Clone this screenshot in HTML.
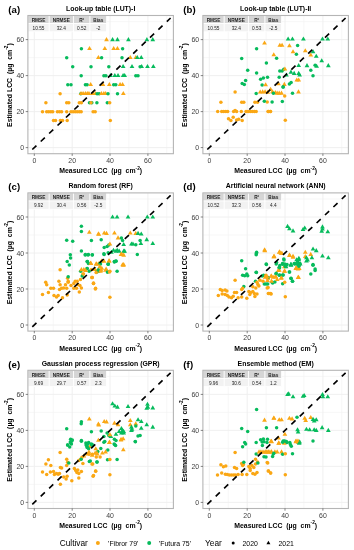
<!DOCTYPE html>
<html><head><meta charset="utf-8"><style>
html,body{margin:0;padding:0;background:#fff;}
svg{display:block;font-family:"Liberation Sans", sans-serif;will-change:transform;}
</style></head><body>
<svg width="354" height="550" viewBox="0 0 354 550">
<rect width="354" height="550" fill="#fff"/>
<g transform="translate(0.00,0.00)">
<rect x="27.9" y="15.5" width="145.5" height="138.2" fill="#fff"/>
<line x1="53.2" y1="15.5" x2="53.2" y2="153.7" stroke="#f4f4f4" stroke-width="0.7"/>
<line x1="27.9" y1="129.6" x2="173.4" y2="129.6" stroke="#f4f4f4" stroke-width="0.7"/>
<line x1="91.1" y1="15.5" x2="91.1" y2="153.7" stroke="#f4f4f4" stroke-width="0.7"/>
<line x1="27.9" y1="93.6" x2="173.4" y2="93.6" stroke="#f4f4f4" stroke-width="0.7"/>
<line x1="128.9" y1="15.5" x2="128.9" y2="153.7" stroke="#f4f4f4" stroke-width="0.7"/>
<line x1="27.9" y1="57.6" x2="173.4" y2="57.6" stroke="#f4f4f4" stroke-width="0.7"/>
<line x1="166.8" y1="15.5" x2="166.8" y2="153.7" stroke="#f4f4f4" stroke-width="0.7"/>
<line x1="27.9" y1="21.6" x2="173.4" y2="21.6" stroke="#f4f4f4" stroke-width="0.7"/>
<line x1="34.3" y1="15.5" x2="34.3" y2="153.7" stroke="#eeeeee" stroke-width="0.9"/>
<line x1="27.9" y1="147.6" x2="173.4" y2="147.6" stroke="#eeeeee" stroke-width="0.9"/>
<line x1="72.2" y1="15.5" x2="72.2" y2="153.7" stroke="#eeeeee" stroke-width="0.9"/>
<line x1="27.9" y1="111.6" x2="173.4" y2="111.6" stroke="#eeeeee" stroke-width="0.9"/>
<line x1="110.0" y1="15.5" x2="110.0" y2="153.7" stroke="#eeeeee" stroke-width="0.9"/>
<line x1="27.9" y1="75.6" x2="173.4" y2="75.6" stroke="#eeeeee" stroke-width="0.9"/>
<line x1="147.9" y1="15.5" x2="147.9" y2="153.7" stroke="#eeeeee" stroke-width="0.9"/>
<line x1="27.9" y1="39.6" x2="173.4" y2="39.6" stroke="#eeeeee" stroke-width="0.9"/>
<path d="M104.15 41.14L106.51 37.06L108.87 41.14Z" fill="#FAA714"/>
<path d="M110.19 41.14L112.55 37.06L114.91 41.14Z" fill="#06BB5C"/>
<path d="M115.10 41.14L117.46 37.06L119.82 41.14Z" fill="#06BB5C"/>
<path d="M126.05 41.14L128.41 37.06L130.77 41.14Z" fill="#06BB5C"/>
<path d="M144.55 41.14L146.91 37.06L149.27 41.14Z" fill="#06BB5C"/>
<path d="M150.41 41.14L152.77 37.06L155.13 41.14Z" fill="#06BB5C"/>
<circle cx="81.4" cy="48.8" r="1.75" fill="#06BB5C"/>
<path d="M87.16 50.12L89.52 46.05L91.88 50.12Z" fill="#FAA714"/>
<path d="M102.45 50.12L104.81 46.05L107.17 50.12Z" fill="#FAA714"/>
<path d="M111.32 50.12L113.68 46.05L116.04 50.12Z" fill="#FAA714"/>
<path d="M115.10 50.12L117.46 46.05L119.82 50.12Z" fill="#FAA714"/>
<circle cx="122.6" cy="48.8" r="1.75" fill="#06BB5C"/>
<circle cx="66.7" cy="57.8" r="1.75" fill="#06BB5C"/>
<path d="M96.03 59.11L98.39 55.03L100.75 59.11Z" fill="#FAA714"/>
<circle cx="101.6" cy="57.8" r="1.75" fill="#06BB5C"/>
<circle cx="122.0" cy="57.8" r="1.75" fill="#06BB5C"/>
<path d="M127.94 59.11L130.30 55.03L132.66 59.11Z" fill="#FAA714"/>
<path d="M133.41 59.11L135.77 55.03L138.13 59.11Z" fill="#FAA714"/>
<path d="M134.92 59.11L137.28 55.03L139.64 59.11Z" fill="#06BB5C"/>
<path d="M138.89 59.11L141.25 55.03L143.61 59.11Z" fill="#06BB5C"/>
<circle cx="72.7" cy="66.7" r="1.75" fill="#06BB5C"/>
<circle cx="91.0" cy="66.7" r="1.75" fill="#06BB5C"/>
<circle cx="108.8" cy="66.7" r="1.75" fill="#06BB5C"/>
<path d="M120.76 68.09L123.12 64.02L125.48 68.09Z" fill="#06BB5C"/>
<path d="M129.64 68.09L132.00 64.02L134.36 68.09Z" fill="#06BB5C"/>
<circle cx="140.1" cy="66.7" r="1.75" fill="#06BB5C"/>
<path d="M139.27 68.09L141.63 64.02L143.99 68.09Z" fill="#06BB5C"/>
<path d="M145.12 68.09L147.48 64.02L149.84 68.09Z" fill="#06BB5C"/>
<path d="M150.97 68.09L153.33 64.02L155.69 68.09Z" fill="#06BB5C"/>
<circle cx="81.2" cy="75.7" r="1.75" fill="#06BB5C"/>
<circle cx="103.9" cy="75.7" r="1.75" fill="#06BB5C"/>
<circle cx="105.9" cy="75.7" r="1.75" fill="#06BB5C"/>
<path d="M108.12 77.08L110.48 73.00L112.84 77.08Z" fill="#06BB5C"/>
<path d="M112.46 77.08L114.82 73.00L117.18 77.08Z" fill="#06BB5C"/>
<path d="M115.67 77.08L118.03 73.00L120.39 77.08Z" fill="#06BB5C"/>
<path d="M120.76 77.08L123.12 73.00L125.48 77.08Z" fill="#06BB5C"/>
<path d="M122.28 77.08L124.64 73.00L127.00 77.08Z" fill="#06BB5C"/>
<circle cx="135.8" cy="75.7" r="1.75" fill="#06BB5C"/>
<circle cx="138.0" cy="75.7" r="1.75" fill="#06BB5C"/>
<circle cx="67.8" cy="84.7" r="1.75" fill="#06BB5C"/>
<circle cx="71.0" cy="84.7" r="1.75" fill="#06BB5C"/>
<circle cx="85.4" cy="84.7" r="1.75" fill="#06BB5C"/>
<circle cx="87.1" cy="84.7" r="1.75" fill="#06BB5C"/>
<path d="M88.29 86.06L90.65 81.98L93.01 86.06Z" fill="#FAA714"/>
<path d="M100.56 86.06L102.92 81.98L105.28 86.06Z" fill="#FAA714"/>
<path d="M106.98 86.06L109.34 81.98L111.70 86.06Z" fill="#FAA714"/>
<circle cx="113.7" cy="84.7" r="1.75" fill="#06BB5C"/>
<circle cx="115.8" cy="84.7" r="1.75" fill="#06BB5C"/>
<path d="M117.74 86.06L120.10 81.98L122.46 86.06Z" fill="#FAA714"/>
<path d="M120.20 86.06L122.56 81.98L124.92 86.06Z" fill="#FAA714"/>
<circle cx="60.1" cy="93.7" r="1.75" fill="#FAA714"/>
<circle cx="80.8" cy="93.7" r="1.75" fill="#06BB5C"/>
<path d="M78.66 95.05L81.02 90.97L83.38 95.05Z" fill="#FAA714"/>
<path d="M80.74 95.05L83.10 90.97L85.46 95.05Z" fill="#FAA714"/>
<path d="M83.00 95.05L85.36 90.97L87.72 95.05Z" fill="#FAA714"/>
<path d="M84.89 95.05L87.25 90.97L89.61 95.05Z" fill="#FAA714"/>
<path d="M86.59 95.05L88.95 90.97L91.31 95.05Z" fill="#FAA714"/>
<path d="M90.56 95.05L92.92 90.97L95.28 95.05Z" fill="#FAA714"/>
<path d="M93.01 95.05L95.37 90.97L97.73 95.05Z" fill="#FAA714"/>
<circle cx="97.1" cy="93.7" r="1.75" fill="#06BB5C"/>
<circle cx="99.1" cy="93.7" r="1.75" fill="#06BB5C"/>
<path d="M99.05 95.05L101.41 90.97L103.77 95.05Z" fill="#FAA714"/>
<path d="M101.51 95.05L103.87 90.97L106.23 95.05Z" fill="#FAA714"/>
<path d="M103.21 95.05L105.57 90.97L107.93 95.05Z" fill="#FAA714"/>
<circle cx="108.0" cy="93.7" r="1.75" fill="#06BB5C"/>
<circle cx="117.5" cy="93.7" r="1.75" fill="#06BB5C"/>
<path d="M120.95 95.05L123.31 90.97L125.67 95.05Z" fill="#FAA714"/>
<circle cx="45.9" cy="102.7" r="1.75" fill="#FAA714"/>
<circle cx="66.7" cy="102.7" r="1.75" fill="#FAA714"/>
<circle cx="68.8" cy="102.7" r="1.75" fill="#FAA714"/>
<circle cx="79.3" cy="102.7" r="1.75" fill="#FAA714"/>
<circle cx="81.4" cy="102.7" r="1.75" fill="#FAA714"/>
<circle cx="89.5" cy="102.7" r="1.75" fill="#06BB5C"/>
<circle cx="91.8" cy="102.7" r="1.75" fill="#06BB5C"/>
<circle cx="91.0" cy="102.7" r="1.75" fill="#FAA714"/>
<circle cx="96.9" cy="102.7" r="1.75" fill="#06BB5C"/>
<circle cx="107.3" cy="102.7" r="1.75" fill="#06BB5C"/>
<circle cx="109.7" cy="102.7" r="1.75" fill="#FAA714"/>
<circle cx="42.5" cy="111.7" r="1.75" fill="#FAA714"/>
<circle cx="46.7" cy="111.7" r="1.75" fill="#FAA714"/>
<circle cx="48.7" cy="111.7" r="1.75" fill="#FAA714"/>
<circle cx="50.8" cy="111.7" r="1.75" fill="#FAA714"/>
<circle cx="52.7" cy="111.7" r="1.75" fill="#FAA714"/>
<circle cx="57.4" cy="111.7" r="1.75" fill="#FAA714"/>
<circle cx="59.5" cy="111.7" r="1.75" fill="#FAA714"/>
<circle cx="61.6" cy="111.7" r="1.75" fill="#FAA714"/>
<circle cx="66.7" cy="111.7" r="1.75" fill="#FAA714"/>
<circle cx="71.0" cy="111.7" r="1.75" fill="#FAA714"/>
<circle cx="73.1" cy="111.7" r="1.75" fill="#FAA714"/>
<circle cx="75.2" cy="111.7" r="1.75" fill="#FAA714"/>
<circle cx="77.2" cy="111.7" r="1.75" fill="#FAA714"/>
<circle cx="79.3" cy="111.7" r="1.75" fill="#FAA714"/>
<circle cx="81.2" cy="111.7" r="1.75" fill="#FAA714"/>
<circle cx="93.1" cy="111.7" r="1.75" fill="#FAA714"/>
<circle cx="95.2" cy="111.7" r="1.75" fill="#FAA714"/>
<circle cx="53.5" cy="120.6" r="1.75" fill="#FAA714"/>
<circle cx="55.5" cy="120.6" r="1.75" fill="#FAA714"/>
<circle cx="60.4" cy="120.6" r="1.75" fill="#FAA714"/>
<circle cx="62.5" cy="120.6" r="1.75" fill="#FAA714"/>
<circle cx="67.2" cy="120.6" r="1.75" fill="#FAA714"/>
<circle cx="110.3" cy="120.6" r="1.75" fill="#FAA714"/>
<line x1="32.31" y1="149.49" x2="170.60" y2="18.00" stroke="#000" stroke-width="1.65" stroke-dasharray="5.7 5.9"/>
<rect x="27.9" y="15.5" width="21.3" height="8.1" fill="#d5d5d5" stroke="#fff" stroke-width="0.8"/>
<rect x="27.9" y="23.6" width="21.3" height="8.2" fill="#f2f2f2" stroke="#fff" stroke-width="0.8"/>
<text x="38.5" y="21.9" font-size="4.75" font-weight="bold" text-anchor="middle" fill="#222">RMSE</text>
<text x="38.5" y="30.1" font-size="4.75" text-anchor="middle" fill="#222">10.55</text>
<rect x="49.2" y="15.5" width="24.2" height="8.1" fill="#d5d5d5" stroke="#fff" stroke-width="0.8"/>
<rect x="49.2" y="23.6" width="24.2" height="8.2" fill="#f2f2f2" stroke="#fff" stroke-width="0.8"/>
<text x="61.3" y="21.9" font-size="4.75" font-weight="bold" text-anchor="middle" fill="#222">NRMSE</text>
<text x="61.3" y="30.1" font-size="4.75" text-anchor="middle" fill="#222">32.4</text>
<rect x="73.4" y="15.5" width="16.6" height="8.1" fill="#d5d5d5" stroke="#fff" stroke-width="0.8"/>
<rect x="73.4" y="23.6" width="16.6" height="8.2" fill="#f2f2f2" stroke="#fff" stroke-width="0.8"/>
<text x="81.7" y="21.9" font-size="4.75" font-weight="bold" text-anchor="middle" fill="#222">R²</text>
<text x="81.7" y="30.1" font-size="4.75" text-anchor="middle" fill="#222">0.52</text>
<rect x="90.0" y="15.5" width="16.6" height="8.1" fill="#d5d5d5" stroke="#fff" stroke-width="0.8"/>
<rect x="90.0" y="23.6" width="16.6" height="8.2" fill="#f2f2f2" stroke="#fff" stroke-width="0.8"/>
<text x="98.3" y="21.9" font-size="4.75" font-weight="bold" text-anchor="middle" fill="#222">Bias</text>
<text x="98.3" y="30.1" font-size="4.75" text-anchor="middle" fill="#222">-2</text>
<rect x="27.9" y="15.5" width="145.5" height="138.2" fill="none" stroke="#b5b5b5" stroke-width="1.1"/>
<line x1="34.3" y1="153.7" x2="34.3" y2="155.9" stroke="#333" stroke-width="0.6"/>
<line x1="25.7" y1="147.6" x2="27.9" y2="147.6" stroke="#333" stroke-width="0.6"/>
<text x="34.3" y="163.0" font-size="6.9" text-anchor="middle" fill="#404040">0</text>
<text x="24.2" y="150.2" font-size="6.9" text-anchor="end" fill="#404040">0</text>
<line x1="72.2" y1="153.7" x2="72.2" y2="155.9" stroke="#333" stroke-width="0.6"/>
<line x1="25.7" y1="111.6" x2="27.9" y2="111.6" stroke="#333" stroke-width="0.6"/>
<text x="72.2" y="163.0" font-size="6.9" text-anchor="middle" fill="#404040">20</text>
<text x="24.2" y="114.2" font-size="6.9" text-anchor="end" fill="#404040">20</text>
<line x1="110.0" y1="153.7" x2="110.0" y2="155.9" stroke="#333" stroke-width="0.6"/>
<line x1="25.7" y1="75.6" x2="27.9" y2="75.6" stroke="#333" stroke-width="0.6"/>
<text x="110.0" y="163.0" font-size="6.9" text-anchor="middle" fill="#404040">40</text>
<text x="24.2" y="78.2" font-size="6.9" text-anchor="end" fill="#404040">40</text>
<line x1="147.9" y1="153.7" x2="147.9" y2="155.9" stroke="#333" stroke-width="0.6"/>
<line x1="25.7" y1="39.6" x2="27.9" y2="39.6" stroke="#333" stroke-width="0.6"/>
<text x="147.9" y="163.0" font-size="6.9" text-anchor="middle" fill="#404040">60</text>
<text x="24.2" y="42.2" font-size="6.9" text-anchor="end" fill="#404040">60</text>
<text x="100.7" y="173.2" font-size="6.9" font-weight="bold" text-anchor="middle" fill="#000" xml:space="preserve">Measured LCC  (µg  cm<tspan font-size="4.8" dy="-3.7">-2</tspan><tspan dy="3.7">)</tspan></text>
<text transform="translate(11.9,85.1) rotate(-90)" font-size="6.9" font-weight="bold" text-anchor="middle" fill="#000" xml:space="preserve">Estimated LCC  (µg  cm<tspan font-size="4.8" dy="-3.7">-2</tspan><tspan dy="3.7">)</tspan></text>
<text x="100.7" y="10.9" font-size="6.9" font-weight="bold" text-anchor="middle" fill="#000">Look-up table (LUT)-I</text>
<text x="8.2" y="12.9" font-size="9.6" font-weight="bold" letter-spacing="0.15" fill="#000">(a)</text>
</g>
<g transform="translate(175.00,0.00)">
<rect x="27.9" y="15.5" width="145.5" height="138.2" fill="#fff"/>
<line x1="53.2" y1="15.5" x2="53.2" y2="153.7" stroke="#f4f4f4" stroke-width="0.7"/>
<line x1="27.9" y1="129.6" x2="173.4" y2="129.6" stroke="#f4f4f4" stroke-width="0.7"/>
<line x1="91.1" y1="15.5" x2="91.1" y2="153.7" stroke="#f4f4f4" stroke-width="0.7"/>
<line x1="27.9" y1="93.6" x2="173.4" y2="93.6" stroke="#f4f4f4" stroke-width="0.7"/>
<line x1="128.9" y1="15.5" x2="128.9" y2="153.7" stroke="#f4f4f4" stroke-width="0.7"/>
<line x1="27.9" y1="57.6" x2="173.4" y2="57.6" stroke="#f4f4f4" stroke-width="0.7"/>
<line x1="166.8" y1="15.5" x2="166.8" y2="153.7" stroke="#f4f4f4" stroke-width="0.7"/>
<line x1="27.9" y1="21.6" x2="173.4" y2="21.6" stroke="#f4f4f4" stroke-width="0.7"/>
<line x1="34.3" y1="15.5" x2="34.3" y2="153.7" stroke="#eeeeee" stroke-width="0.9"/>
<line x1="27.9" y1="147.6" x2="173.4" y2="147.6" stroke="#eeeeee" stroke-width="0.9"/>
<line x1="72.2" y1="15.5" x2="72.2" y2="153.7" stroke="#eeeeee" stroke-width="0.9"/>
<line x1="27.9" y1="111.6" x2="173.4" y2="111.6" stroke="#eeeeee" stroke-width="0.9"/>
<line x1="110.0" y1="15.5" x2="110.0" y2="153.7" stroke="#eeeeee" stroke-width="0.9"/>
<line x1="27.9" y1="75.6" x2="173.4" y2="75.6" stroke="#eeeeee" stroke-width="0.9"/>
<line x1="147.9" y1="15.5" x2="147.9" y2="153.7" stroke="#eeeeee" stroke-width="0.9"/>
<line x1="27.9" y1="39.6" x2="173.4" y2="39.6" stroke="#eeeeee" stroke-width="0.9"/>
<path d="M87.16 44.55L89.52 40.47L91.88 44.55Z" fill="#FAA714"/>
<path d="M96.41 56.23L98.77 52.15L101.13 56.23Z" fill="#FAA714"/>
<circle cx="81.6" cy="48.8" r="1.75" fill="#06BB5C"/>
<circle cx="66.7" cy="58.5" r="1.75" fill="#06BB5C"/>
<circle cx="91.4" cy="63.1" r="1.75" fill="#06BB5C"/>
<circle cx="72.7" cy="70.3" r="1.75" fill="#06BB5C"/>
<circle cx="81.6" cy="73.0" r="1.75" fill="#06BB5C"/>
<circle cx="70.6" cy="80.4" r="1.75" fill="#06BB5C"/>
<circle cx="85.6" cy="79.3" r="1.75" fill="#06BB5C"/>
<circle cx="88.4" cy="77.9" r="1.75" fill="#06BB5C"/>
<circle cx="92.5" cy="77.3" r="1.75" fill="#06BB5C"/>
<circle cx="67.2" cy="83.4" r="1.75" fill="#06BB5C"/>
<circle cx="69.3" cy="84.5" r="1.75" fill="#06BB5C"/>
<circle cx="87.1" cy="84.9" r="1.75" fill="#06BB5C"/>
<path d="M88.29 86.24L90.65 82.16L93.01 86.24Z" fill="#FAA714"/>
<circle cx="60.1" cy="92.1" r="1.75" fill="#FAA714"/>
<circle cx="81.2" cy="93.5" r="1.75" fill="#06BB5C"/>
<path d="M82.82 93.61L85.18 89.53L87.54 93.61Z" fill="#FAA714"/>
<path d="M85.27 93.43L87.63 89.35L89.99 93.43Z" fill="#FAA714"/>
<path d="M87.72 93.25L90.08 89.17L92.44 93.25Z" fill="#FAA714"/>
<path d="M90.37 93.79L92.73 89.71L95.09 93.79Z" fill="#FAA714"/>
<path d="M93.20 90.74L95.56 86.66L97.92 90.74Z" fill="#FAA714"/>
<path d="M110.76 40.60L113.12 36.52L115.48 40.60Z" fill="#06BB5C"/>
<path d="M115.10 40.60L117.46 36.52L119.82 40.60Z" fill="#06BB5C"/>
<path d="M126.05 40.60L128.41 36.52L130.77 40.60Z" fill="#06BB5C"/>
<path d="M145.12 40.60L147.48 36.52L149.84 40.60Z" fill="#06BB5C"/>
<path d="M150.41 40.60L152.77 36.52L155.13 40.60Z" fill="#06BB5C"/>
<path d="M102.45 46.71L104.81 42.63L107.17 46.71Z" fill="#FAA714"/>
<path d="M104.72 46.71L107.08 42.63L109.44 46.71Z" fill="#FAA714"/>
<path d="M112.08 47.25L114.44 43.17L116.80 47.25Z" fill="#FAA714"/>
<circle cx="122.6" cy="45.4" r="1.75" fill="#06BB5C"/>
<circle cx="101.6" cy="58.3" r="1.75" fill="#06BB5C"/>
<circle cx="121.4" cy="54.2" r="1.75" fill="#06BB5C"/>
<path d="M115.67 53.36L118.03 49.28L120.39 53.36Z" fill="#FAA714"/>
<path d="M127.94 52.28L130.30 48.20L132.66 52.28Z" fill="#FAA714"/>
<path d="M133.41 56.59L135.77 52.51L138.13 56.59Z" fill="#FAA714"/>
<path d="M135.68 53.36L138.04 49.28L140.40 53.36Z" fill="#06BB5C"/>
<path d="M138.89 57.85L141.25 53.77L143.61 57.85Z" fill="#06BB5C"/>
<path d="M144.36 62.34L146.72 58.26L149.08 62.34Z" fill="#06BB5C"/>
<path d="M121.33 67.02L123.69 62.94L126.05 67.02Z" fill="#06BB5C"/>
<path d="M129.64 67.20L132.00 63.12L134.36 67.20Z" fill="#06BB5C"/>
<circle cx="140.1" cy="65.3" r="1.75" fill="#06BB5C"/>
<path d="M139.27 67.74L141.63 63.66L143.99 67.74Z" fill="#06BB5C"/>
<path d="M150.97 67.20L153.33 63.12L155.69 67.20Z" fill="#06BB5C"/>
<circle cx="108.8" cy="69.3" r="1.75" fill="#06BB5C"/>
<circle cx="104.8" cy="70.9" r="1.75" fill="#06BB5C"/>
<circle cx="107.1" cy="70.9" r="1.75" fill="#06BB5C"/>
<path d="M107.55 70.61L109.91 66.53L112.27 70.61Z" fill="#FAA714"/>
<path d="M113.59 73.67L115.95 69.59L118.31 73.67Z" fill="#06BB5C"/>
<path d="M116.80 74.92L119.16 70.84L121.52 74.92Z" fill="#06BB5C"/>
<path d="M121.33 74.92L123.69 70.84L126.05 74.92Z" fill="#06BB5C"/>
<path d="M122.28 76.54L124.64 72.46L127.00 76.54Z" fill="#06BB5C"/>
<path d="M109.06 76.54L111.42 72.46L113.78 76.54Z" fill="#06BB5C"/>
<circle cx="104.2" cy="77.3" r="1.75" fill="#06BB5C"/>
<circle cx="138.0" cy="75.7" r="1.75" fill="#06BB5C"/>
<circle cx="135.8" cy="70.3" r="1.75" fill="#06BB5C"/>
<path d="M119.44 81.57L121.80 77.49L124.16 81.57Z" fill="#FAA714"/>
<path d="M121.33 81.57L123.69 77.49L126.05 81.57Z" fill="#FAA714"/>
<path d="M106.98 85.89L109.34 81.81L111.70 85.89Z" fill="#FAA714"/>
<path d="M101.13 85.35L103.49 81.27L105.85 85.35Z" fill="#FAA714"/>
<circle cx="114.4" cy="84.0" r="1.75" fill="#06BB5C"/>
<circle cx="116.1" cy="82.4" r="1.75" fill="#06BB5C"/>
<circle cx="108.2" cy="86.9" r="1.75" fill="#06BB5C"/>
<circle cx="108.0" cy="86.9" r="1.75" fill="#06BB5C"/>
<path d="M95.09 93.25L97.45 89.17L99.81 93.25Z" fill="#FAA714"/>
<path d="M97.92 94.15L100.28 90.07L102.64 94.15Z" fill="#FAA714"/>
<path d="M99.81 94.69L102.17 90.61L104.53 94.69Z" fill="#FAA714"/>
<path d="M101.88 94.69L104.24 90.61L106.60 94.69Z" fill="#FAA714"/>
<path d="M104.15 94.69L106.51 90.61L108.87 94.69Z" fill="#FAA714"/>
<path d="M121.14 93.43L123.50 89.35L125.86 93.43Z" fill="#FAA714"/>
<circle cx="98.4" cy="93.3" r="1.75" fill="#06BB5C"/>
<circle cx="117.5" cy="93.3" r="1.75" fill="#06BB5C"/>
<circle cx="109.7" cy="96.0" r="1.75" fill="#FAA714"/>
<circle cx="45.9" cy="102.3" r="1.75" fill="#FAA714"/>
<circle cx="66.7" cy="102.3" r="1.75" fill="#FAA714"/>
<circle cx="68.8" cy="102.3" r="1.75" fill="#FAA714"/>
<circle cx="79.9" cy="102.3" r="1.75" fill="#FAA714"/>
<circle cx="82.5" cy="102.3" r="1.75" fill="#FAA714"/>
<circle cx="92.2" cy="102.1" r="1.75" fill="#FAA714"/>
<circle cx="89.3" cy="101.2" r="1.75" fill="#06BB5C"/>
<circle cx="97.1" cy="102.1" r="1.75" fill="#06BB5C"/>
<circle cx="107.3" cy="101.6" r="1.75" fill="#06BB5C"/>
<circle cx="42.7" cy="111.5" r="1.75" fill="#FAA714"/>
<circle cx="46.7" cy="111.5" r="1.75" fill="#FAA714"/>
<circle cx="48.7" cy="111.5" r="1.75" fill="#FAA714"/>
<circle cx="50.8" cy="111.5" r="1.75" fill="#FAA714"/>
<circle cx="52.7" cy="111.5" r="1.75" fill="#FAA714"/>
<circle cx="58.6" cy="111.5" r="1.75" fill="#FAA714"/>
<circle cx="60.1" cy="110.6" r="1.75" fill="#FAA714"/>
<circle cx="61.6" cy="111.5" r="1.75" fill="#FAA714"/>
<circle cx="66.3" cy="111.5" r="1.75" fill="#FAA714"/>
<circle cx="71.0" cy="111.5" r="1.75" fill="#FAA714"/>
<circle cx="73.1" cy="111.5" r="1.75" fill="#FAA714"/>
<circle cx="75.2" cy="111.5" r="1.75" fill="#FAA714"/>
<circle cx="77.2" cy="111.5" r="1.75" fill="#FAA714"/>
<circle cx="79.3" cy="111.5" r="1.75" fill="#FAA714"/>
<circle cx="81.2" cy="111.5" r="1.75" fill="#FAA714"/>
<circle cx="93.1" cy="111.5" r="1.75" fill="#FAA714"/>
<circle cx="95.2" cy="111.5" r="1.75" fill="#FAA714"/>
<circle cx="93.3" cy="111.5" r="1.75" fill="#FAA714"/>
<circle cx="95.6" cy="111.5" r="1.75" fill="#FAA714"/>
<circle cx="53.5" cy="118.7" r="1.75" fill="#FAA714"/>
<circle cx="55.9" cy="120.6" r="1.75" fill="#FAA714"/>
<circle cx="58.2" cy="117.2" r="1.75" fill="#FAA714"/>
<circle cx="61.6" cy="120.1" r="1.75" fill="#FAA714"/>
<circle cx="63.7" cy="119.2" r="1.75" fill="#FAA714"/>
<circle cx="67.2" cy="120.6" r="1.75" fill="#FAA714"/>
<circle cx="110.3" cy="120.3" r="1.75" fill="#FAA714"/>
<line x1="32.31" y1="149.49" x2="170.60" y2="18.00" stroke="#000" stroke-width="1.65" stroke-dasharray="5.7 5.9"/>
<rect x="27.9" y="15.5" width="21.3" height="8.1" fill="#d5d5d5" stroke="#fff" stroke-width="0.8"/>
<rect x="27.9" y="23.6" width="21.3" height="8.2" fill="#f2f2f2" stroke="#fff" stroke-width="0.8"/>
<text x="38.5" y="21.9" font-size="4.75" font-weight="bold" text-anchor="middle" fill="#222">RMSE</text>
<text x="38.5" y="30.1" font-size="4.75" text-anchor="middle" fill="#222">10.55</text>
<rect x="49.2" y="15.5" width="24.2" height="8.1" fill="#d5d5d5" stroke="#fff" stroke-width="0.8"/>
<rect x="49.2" y="23.6" width="24.2" height="8.2" fill="#f2f2f2" stroke="#fff" stroke-width="0.8"/>
<text x="61.3" y="21.9" font-size="4.75" font-weight="bold" text-anchor="middle" fill="#222">NRMSE</text>
<text x="61.3" y="30.1" font-size="4.75" text-anchor="middle" fill="#222">32.4</text>
<rect x="73.4" y="15.5" width="16.6" height="8.1" fill="#d5d5d5" stroke="#fff" stroke-width="0.8"/>
<rect x="73.4" y="23.6" width="16.6" height="8.2" fill="#f2f2f2" stroke="#fff" stroke-width="0.8"/>
<text x="81.7" y="21.9" font-size="4.75" font-weight="bold" text-anchor="middle" fill="#222">R²</text>
<text x="81.7" y="30.1" font-size="4.75" text-anchor="middle" fill="#222">0.53</text>
<rect x="90.0" y="15.5" width="16.6" height="8.1" fill="#d5d5d5" stroke="#fff" stroke-width="0.8"/>
<rect x="90.0" y="23.6" width="16.6" height="8.2" fill="#f2f2f2" stroke="#fff" stroke-width="0.8"/>
<text x="98.3" y="21.9" font-size="4.75" font-weight="bold" text-anchor="middle" fill="#222">Bias</text>
<text x="98.3" y="30.1" font-size="4.75" text-anchor="middle" fill="#222">-2.5</text>
<rect x="27.9" y="15.5" width="145.5" height="138.2" fill="none" stroke="#b5b5b5" stroke-width="1.1"/>
<line x1="34.3" y1="153.7" x2="34.3" y2="155.9" stroke="#333" stroke-width="0.6"/>
<line x1="25.7" y1="147.6" x2="27.9" y2="147.6" stroke="#333" stroke-width="0.6"/>
<text x="34.3" y="163.0" font-size="6.9" text-anchor="middle" fill="#404040">0</text>
<text x="24.2" y="150.2" font-size="6.9" text-anchor="end" fill="#404040">0</text>
<line x1="72.2" y1="153.7" x2="72.2" y2="155.9" stroke="#333" stroke-width="0.6"/>
<line x1="25.7" y1="111.6" x2="27.9" y2="111.6" stroke="#333" stroke-width="0.6"/>
<text x="72.2" y="163.0" font-size="6.9" text-anchor="middle" fill="#404040">20</text>
<text x="24.2" y="114.2" font-size="6.9" text-anchor="end" fill="#404040">20</text>
<line x1="110.0" y1="153.7" x2="110.0" y2="155.9" stroke="#333" stroke-width="0.6"/>
<line x1="25.7" y1="75.6" x2="27.9" y2="75.6" stroke="#333" stroke-width="0.6"/>
<text x="110.0" y="163.0" font-size="6.9" text-anchor="middle" fill="#404040">40</text>
<text x="24.2" y="78.2" font-size="6.9" text-anchor="end" fill="#404040">40</text>
<line x1="147.9" y1="153.7" x2="147.9" y2="155.9" stroke="#333" stroke-width="0.6"/>
<line x1="25.7" y1="39.6" x2="27.9" y2="39.6" stroke="#333" stroke-width="0.6"/>
<text x="147.9" y="163.0" font-size="6.9" text-anchor="middle" fill="#404040">60</text>
<text x="24.2" y="42.2" font-size="6.9" text-anchor="end" fill="#404040">60</text>
<text x="100.7" y="173.2" font-size="6.9" font-weight="bold" text-anchor="middle" fill="#000" xml:space="preserve">Measured LCC  (µg  cm<tspan font-size="4.8" dy="-3.7">-2</tspan><tspan dy="3.7">)</tspan></text>
<text transform="translate(11.9,85.1) rotate(-90)" font-size="6.9" font-weight="bold" text-anchor="middle" fill="#000" xml:space="preserve">Estimated LCC  (µg  cm<tspan font-size="4.8" dy="-3.7">-2</tspan><tspan dy="3.7">)</tspan></text>
<text x="100.7" y="10.9" font-size="6.9" font-weight="bold" text-anchor="middle" fill="#000">Look-up table (LUT)-II</text>
<text x="8.2" y="12.9" font-size="9.6" font-weight="bold" letter-spacing="0.15" fill="#000">(b)</text>
</g>
<g transform="translate(0.00,177.40)">
<rect x="27.9" y="15.5" width="145.5" height="138.2" fill="#fff"/>
<line x1="53.2" y1="15.5" x2="53.2" y2="153.7" stroke="#f4f4f4" stroke-width="0.7"/>
<line x1="27.9" y1="129.6" x2="173.4" y2="129.6" stroke="#f4f4f4" stroke-width="0.7"/>
<line x1="91.1" y1="15.5" x2="91.1" y2="153.7" stroke="#f4f4f4" stroke-width="0.7"/>
<line x1="27.9" y1="93.6" x2="173.4" y2="93.6" stroke="#f4f4f4" stroke-width="0.7"/>
<line x1="128.9" y1="15.5" x2="128.9" y2="153.7" stroke="#f4f4f4" stroke-width="0.7"/>
<line x1="27.9" y1="57.6" x2="173.4" y2="57.6" stroke="#f4f4f4" stroke-width="0.7"/>
<line x1="166.8" y1="15.5" x2="166.8" y2="153.7" stroke="#f4f4f4" stroke-width="0.7"/>
<line x1="27.9" y1="21.6" x2="173.4" y2="21.6" stroke="#f4f4f4" stroke-width="0.7"/>
<line x1="34.3" y1="15.5" x2="34.3" y2="153.7" stroke="#eeeeee" stroke-width="0.9"/>
<line x1="27.9" y1="147.6" x2="173.4" y2="147.6" stroke="#eeeeee" stroke-width="0.9"/>
<line x1="72.2" y1="15.5" x2="72.2" y2="153.7" stroke="#eeeeee" stroke-width="0.9"/>
<line x1="27.9" y1="111.6" x2="173.4" y2="111.6" stroke="#eeeeee" stroke-width="0.9"/>
<line x1="110.0" y1="15.5" x2="110.0" y2="153.7" stroke="#eeeeee" stroke-width="0.9"/>
<line x1="27.9" y1="75.6" x2="173.4" y2="75.6" stroke="#eeeeee" stroke-width="0.9"/>
<line x1="147.9" y1="15.5" x2="147.9" y2="153.7" stroke="#eeeeee" stroke-width="0.9"/>
<line x1="27.9" y1="39.6" x2="173.4" y2="39.6" stroke="#eeeeee" stroke-width="0.9"/>
<circle cx="81.4" cy="48.9" r="1.75" fill="#06BB5C"/>
<circle cx="81.4" cy="54.0" r="1.75" fill="#06BB5C"/>
<circle cx="66.7" cy="62.8" r="1.75" fill="#06BB5C"/>
<circle cx="72.7" cy="63.9" r="1.75" fill="#06BB5C"/>
<circle cx="91.4" cy="63.1" r="1.75" fill="#06BB5C"/>
<circle cx="81.4" cy="73.7" r="1.75" fill="#06BB5C"/>
<circle cx="85.4" cy="77.0" r="1.75" fill="#06BB5C"/>
<circle cx="88.4" cy="77.0" r="1.75" fill="#06BB5C"/>
<circle cx="92.4" cy="77.3" r="1.75" fill="#06BB5C"/>
<circle cx="70.3" cy="77.3" r="1.75" fill="#06BB5C"/>
<circle cx="70.6" cy="80.6" r="1.75" fill="#06BB5C"/>
<circle cx="67.2" cy="84.2" r="1.75" fill="#06BB5C"/>
<circle cx="69.3" cy="87.6" r="1.75" fill="#06BB5C"/>
<circle cx="87.1" cy="84.2" r="1.75" fill="#06BB5C"/>
<circle cx="87.1" cy="91.2" r="1.75" fill="#06BB5C"/>
<path d="M86.97 56.41L89.33 52.33L91.69 56.41Z" fill="#FAA714"/>
<path d="M96.41 58.39L98.77 54.31L101.13 58.39Z" fill="#FAA714"/>
<path d="M88.29 87.50L90.65 83.42L93.01 87.50Z" fill="#FAA714"/>
<path d="M81.49 93.61L83.85 89.53L86.21 93.61Z" fill="#FAA714"/>
<circle cx="60.1" cy="92.3" r="1.75" fill="#FAA714"/>
<path d="M110.19 41.14L112.55 37.06L114.91 41.14Z" fill="#06BB5C"/>
<path d="M114.72 41.14L117.08 37.06L119.44 41.14Z" fill="#06BB5C"/>
<path d="M125.67 41.14L128.03 37.06L130.39 41.14Z" fill="#06BB5C"/>
<path d="M144.93 41.14L147.29 37.06L149.65 41.14Z" fill="#06BB5C"/>
<path d="M150.41 41.14L152.77 37.06L155.13 41.14Z" fill="#06BB5C"/>
<path d="M96.03 58.03L98.39 53.95L100.75 58.03Z" fill="#FAA714"/>
<path d="M101.88 57.13L104.24 53.05L106.60 57.13Z" fill="#FAA714"/>
<path d="M104.15 57.49L106.51 53.41L108.87 57.49Z" fill="#FAA714"/>
<path d="M112.08 57.13L114.44 53.05L116.80 57.13Z" fill="#FAA714"/>
<path d="M115.67 61.99L118.03 57.91L120.39 61.99Z" fill="#FAA714"/>
<path d="M127.94 57.13L130.30 53.05L132.66 57.13Z" fill="#FAA714"/>
<path d="M133.41 57.49L135.77 53.41L138.13 57.49Z" fill="#FAA714"/>
<circle cx="101.2" cy="62.4" r="1.75" fill="#06BB5C"/>
<circle cx="121.4" cy="60.6" r="1.75" fill="#06BB5C"/>
<circle cx="122.6" cy="63.0" r="1.75" fill="#06BB5C"/>
<circle cx="140.1" cy="63.0" r="1.75" fill="#06BB5C"/>
<circle cx="135.8" cy="67.3" r="1.75" fill="#06BB5C"/>
<circle cx="108.8" cy="67.6" r="1.75" fill="#06BB5C"/>
<circle cx="104.2" cy="70.0" r="1.75" fill="#06BB5C"/>
<circle cx="107.1" cy="69.1" r="1.75" fill="#06BB5C"/>
<circle cx="103.9" cy="76.4" r="1.75" fill="#06BB5C"/>
<circle cx="137.3" cy="77.2" r="1.75" fill="#06BB5C"/>
<path d="M135.68 57.49L138.04 53.41L140.40 57.49Z" fill="#06BB5C"/>
<path d="M138.89 58.21L141.25 54.13L143.61 58.21Z" fill="#06BB5C"/>
<path d="M144.36 63.78L146.72 59.70L149.08 63.78Z" fill="#06BB5C"/>
<path d="M121.33 68.63L123.69 64.55L126.05 68.63Z" fill="#06BB5C"/>
<path d="M129.07 68.09L131.43 64.02L133.79 68.09Z" fill="#06BB5C"/>
<path d="M130.58 68.09L132.94 64.02L135.30 68.09Z" fill="#06BB5C"/>
<path d="M138.51 67.56L140.87 63.48L143.23 67.56Z" fill="#06BB5C"/>
<path d="M150.41 67.56L152.77 63.48L155.13 67.56Z" fill="#06BB5C"/>
<path d="M113.59 75.28L115.95 71.20L118.31 75.28Z" fill="#06BB5C"/>
<path d="M116.80 75.28L119.16 71.20L121.52 75.28Z" fill="#06BB5C"/>
<path d="M121.33 75.28L123.69 71.20L126.05 75.28Z" fill="#06BB5C"/>
<path d="M122.28 75.28L124.64 71.20L127.00 75.28Z" fill="#06BB5C"/>
<path d="M109.06 76.36L111.42 72.28L113.78 76.36Z" fill="#06BB5C"/>
<path d="M111.14 74.38L113.50 70.30L115.86 74.38Z" fill="#06BB5C"/>
<path d="M114.91 74.38L117.27 70.30L119.63 74.38Z" fill="#06BB5C"/>
<path d="M107.55 68.09L109.91 64.02L112.27 68.09Z" fill="#FAA714"/>
<path d="M118.69 78.52L121.05 74.44L123.41 78.52Z" fill="#FAA714"/>
<path d="M121.33 79.24L123.69 75.16L126.05 79.24Z" fill="#FAA714"/>
<path d="M106.98 85.17L109.34 81.09L111.70 85.17Z" fill="#FAA714"/>
<path d="M96.03 88.04L98.39 83.96L100.75 88.04Z" fill="#FAA714"/>
<path d="M99.24 85.17L101.60 81.09L103.96 85.17Z" fill="#FAA714"/>
<path d="M120.20 88.94L122.56 84.86L124.92 88.94Z" fill="#FAA714"/>
<circle cx="114.4" cy="84.5" r="1.75" fill="#06BB5C"/>
<circle cx="116.0" cy="83.8" r="1.75" fill="#06BB5C"/>
<circle cx="108.2" cy="86.7" r="1.75" fill="#06BB5C"/>
<circle cx="45.7" cy="104.8" r="1.75" fill="#FAA714"/>
<circle cx="46.7" cy="107.3" r="1.75" fill="#FAA714"/>
<circle cx="42.5" cy="117.1" r="1.75" fill="#FAA714"/>
<circle cx="48.4" cy="115.1" r="1.75" fill="#FAA714"/>
<circle cx="50.8" cy="110.9" r="1.75" fill="#FAA714"/>
<circle cx="53.5" cy="110.9" r="1.75" fill="#FAA714"/>
<circle cx="54.0" cy="118.1" r="1.75" fill="#FAA714"/>
<circle cx="56.5" cy="119.6" r="1.75" fill="#FAA714"/>
<circle cx="58.2" cy="118.1" r="1.75" fill="#FAA714"/>
<circle cx="62.5" cy="120.3" r="1.75" fill="#FAA714"/>
<circle cx="58.9" cy="103.9" r="1.75" fill="#FAA714"/>
<circle cx="60.1" cy="107.3" r="1.75" fill="#FAA714"/>
<circle cx="61.6" cy="110.9" r="1.75" fill="#FAA714"/>
<circle cx="63.7" cy="110.6" r="1.75" fill="#FAA714"/>
<circle cx="59.5" cy="112.0" r="1.75" fill="#FAA714"/>
<circle cx="65.5" cy="107.3" r="1.75" fill="#FAA714"/>
<circle cx="67.6" cy="100.9" r="1.75" fill="#FAA714"/>
<circle cx="68.2" cy="103.9" r="1.75" fill="#FAA714"/>
<circle cx="68.2" cy="104.8" r="1.75" fill="#FAA714"/>
<circle cx="66.7" cy="110.9" r="1.75" fill="#FAA714"/>
<circle cx="67.2" cy="117.6" r="1.75" fill="#FAA714"/>
<circle cx="71.0" cy="108.1" r="1.75" fill="#FAA714"/>
<circle cx="73.8" cy="106.1" r="1.75" fill="#FAA714"/>
<circle cx="75.2" cy="103.9" r="1.75" fill="#FAA714"/>
<circle cx="77.2" cy="103.9" r="1.75" fill="#FAA714"/>
<circle cx="73.8" cy="110.9" r="1.75" fill="#FAA714"/>
<circle cx="76.5" cy="110.9" r="1.75" fill="#FAA714"/>
<circle cx="77.8" cy="107.0" r="1.75" fill="#FAA714"/>
<circle cx="79.9" cy="108.1" r="1.75" fill="#FAA714"/>
<circle cx="81.4" cy="110.6" r="1.75" fill="#FAA714"/>
<circle cx="79.3" cy="114.7" r="1.75" fill="#FAA714"/>
<circle cx="80.5" cy="102.0" r="1.75" fill="#FAA714"/>
<circle cx="82.9" cy="96.7" r="1.75" fill="#FAA714"/>
<circle cx="92.2" cy="100.0" r="1.75" fill="#FAA714"/>
<circle cx="93.5" cy="106.1" r="1.75" fill="#FAA714"/>
<circle cx="95.6" cy="110.9" r="1.75" fill="#FAA714"/>
<circle cx="68.2" cy="99.3" r="1.75" fill="#06BB5C"/>
<path d="M88.29 87.68L90.65 83.60L93.01 87.68Z" fill="#FAA714"/>
<path d="M94.14 88.22L96.50 84.14L98.86 88.22Z" fill="#FAA714"/>
<path d="M120.95 89.30L123.31 85.22L125.67 89.30Z" fill="#FAA714"/>
<path d="M92.26 93.61L94.62 89.53L96.98 93.61Z" fill="#FAA714"/>
<path d="M98.86 94.33L101.22 90.25L103.58 94.33Z" fill="#FAA714"/>
<path d="M103.21 94.33L105.57 90.25L107.93 94.33Z" fill="#FAA714"/>
<circle cx="100.1" cy="85.8" r="1.75" fill="#06BB5C"/>
<circle cx="108.2" cy="86.9" r="1.75" fill="#06BB5C"/>
<circle cx="96.9" cy="94.6" r="1.75" fill="#06BB5C"/>
<circle cx="99.0" cy="93.9" r="1.75" fill="#06BB5C"/>
<circle cx="107.5" cy="94.6" r="1.75" fill="#06BB5C"/>
<circle cx="117.1" cy="93.9" r="1.75" fill="#06BB5C"/>
<circle cx="109.9" cy="93.9" r="1.75" fill="#FAA714"/>
<circle cx="91.2" cy="92.3" r="1.75" fill="#FAA714"/>
<circle cx="92.0" cy="100.0" r="1.75" fill="#FAA714"/>
<circle cx="93.5" cy="106.1" r="1.75" fill="#FAA714"/>
<circle cx="95.4" cy="111.5" r="1.75" fill="#FAA714"/>
<circle cx="109.9" cy="119.9" r="1.75" fill="#FAA714"/>
<circle cx="85.2" cy="77.5" r="1.75" fill="#06BB5C"/>
<circle cx="88.0" cy="77.5" r="1.75" fill="#06BB5C"/>
<circle cx="92.2" cy="77.5" r="1.75" fill="#06BB5C"/>
<circle cx="104.1" cy="77.2" r="1.75" fill="#06BB5C"/>
<circle cx="108.2" cy="75.4" r="1.75" fill="#06BB5C"/>
<circle cx="87.4" cy="84.2" r="1.75" fill="#06BB5C"/>
<circle cx="88.4" cy="86.0" r="1.75" fill="#06BB5C"/>
<circle cx="100.5" cy="86.7" r="1.75" fill="#06BB5C"/>
<circle cx="114.3" cy="84.0" r="1.75" fill="#06BB5C"/>
<circle cx="116.0" cy="83.6" r="1.75" fill="#06BB5C"/>
<circle cx="108.2" cy="86.7" r="1.75" fill="#06BB5C"/>
<circle cx="80.6" cy="93.9" r="1.75" fill="#06BB5C"/>
<circle cx="87.1" cy="91.0" r="1.75" fill="#06BB5C"/>
<circle cx="89.1" cy="93.9" r="1.75" fill="#06BB5C"/>
<circle cx="96.9" cy="93.9" r="1.75" fill="#06BB5C"/>
<circle cx="98.4" cy="92.4" r="1.75" fill="#06BB5C"/>
<circle cx="107.5" cy="94.6" r="1.75" fill="#06BB5C"/>
<circle cx="82.2" cy="98.7" r="1.75" fill="#06BB5C"/>
<path d="M119.25 78.16L121.61 74.08L123.97 78.16Z" fill="#FAA714"/>
<path d="M88.48 87.32L90.84 83.24L93.20 87.32Z" fill="#FAA714"/>
<path d="M93.77 88.04L96.13 83.96L98.49 88.04Z" fill="#FAA714"/>
<path d="M101.70 85.35L104.06 81.27L106.42 85.35Z" fill="#FAA714"/>
<path d="M106.60 84.99L108.96 80.91L111.32 84.99Z" fill="#FAA714"/>
<path d="M121.33 88.76L123.69 84.68L126.05 88.76Z" fill="#FAA714"/>
<path d="M97.35 90.74L99.71 86.66L102.07 90.74Z" fill="#FAA714"/>
<path d="M79.04 93.79L81.40 89.71L83.76 93.79Z" fill="#FAA714"/>
<path d="M83.19 94.51L85.55 90.43L87.91 94.51Z" fill="#FAA714"/>
<path d="M92.44 93.07L94.80 88.99L97.16 93.07Z" fill="#FAA714"/>
<path d="M98.11 95.23L100.47 91.15L102.83 95.23Z" fill="#FAA714"/>
<path d="M99.43 92.35L101.79 88.27L104.15 92.35Z" fill="#FAA714"/>
<path d="M103.77 93.07L106.13 88.99L108.49 93.07Z" fill="#FAA714"/>
<circle cx="96.1" cy="95.1" r="1.75" fill="#FAA714"/>
<circle cx="109.5" cy="94.6" r="1.75" fill="#FAA714"/>
<circle cx="83.5" cy="96.6" r="1.75" fill="#FAA714"/>
<circle cx="92.0" cy="100.2" r="1.75" fill="#FAA714"/>
<circle cx="93.5" cy="105.7" r="1.75" fill="#FAA714"/>
<line x1="32.31" y1="149.49" x2="170.60" y2="18.00" stroke="#000" stroke-width="1.65" stroke-dasharray="5.7 5.9"/>
<rect x="27.9" y="15.5" width="21.3" height="8.1" fill="#d5d5d5" stroke="#fff" stroke-width="0.8"/>
<rect x="27.9" y="23.6" width="21.3" height="8.2" fill="#f2f2f2" stroke="#fff" stroke-width="0.8"/>
<text x="38.5" y="21.9" font-size="4.75" font-weight="bold" text-anchor="middle" fill="#222">RMSE</text>
<text x="38.5" y="30.1" font-size="4.75" text-anchor="middle" fill="#222">9.92</text>
<rect x="49.2" y="15.5" width="24.2" height="8.1" fill="#d5d5d5" stroke="#fff" stroke-width="0.8"/>
<rect x="49.2" y="23.6" width="24.2" height="8.2" fill="#f2f2f2" stroke="#fff" stroke-width="0.8"/>
<text x="61.3" y="21.9" font-size="4.75" font-weight="bold" text-anchor="middle" fill="#222">NRMSE</text>
<text x="61.3" y="30.1" font-size="4.75" text-anchor="middle" fill="#222">30.4</text>
<rect x="73.4" y="15.5" width="16.6" height="8.1" fill="#d5d5d5" stroke="#fff" stroke-width="0.8"/>
<rect x="73.4" y="23.6" width="16.6" height="8.2" fill="#f2f2f2" stroke="#fff" stroke-width="0.8"/>
<text x="81.7" y="21.9" font-size="4.75" font-weight="bold" text-anchor="middle" fill="#222">R²</text>
<text x="81.7" y="30.1" font-size="4.75" text-anchor="middle" fill="#222">0.56</text>
<rect x="90.0" y="15.5" width="16.6" height="8.1" fill="#d5d5d5" stroke="#fff" stroke-width="0.8"/>
<rect x="90.0" y="23.6" width="16.6" height="8.2" fill="#f2f2f2" stroke="#fff" stroke-width="0.8"/>
<text x="98.3" y="21.9" font-size="4.75" font-weight="bold" text-anchor="middle" fill="#222">Bias</text>
<text x="98.3" y="30.1" font-size="4.75" text-anchor="middle" fill="#222">-2.5</text>
<rect x="27.9" y="15.5" width="145.5" height="138.2" fill="none" stroke="#b5b5b5" stroke-width="1.1"/>
<line x1="34.3" y1="153.7" x2="34.3" y2="155.9" stroke="#333" stroke-width="0.6"/>
<line x1="25.7" y1="147.6" x2="27.9" y2="147.6" stroke="#333" stroke-width="0.6"/>
<text x="34.3" y="163.0" font-size="6.9" text-anchor="middle" fill="#404040">0</text>
<text x="24.2" y="150.2" font-size="6.9" text-anchor="end" fill="#404040">0</text>
<line x1="72.2" y1="153.7" x2="72.2" y2="155.9" stroke="#333" stroke-width="0.6"/>
<line x1="25.7" y1="111.6" x2="27.9" y2="111.6" stroke="#333" stroke-width="0.6"/>
<text x="72.2" y="163.0" font-size="6.9" text-anchor="middle" fill="#404040">20</text>
<text x="24.2" y="114.2" font-size="6.9" text-anchor="end" fill="#404040">20</text>
<line x1="110.0" y1="153.7" x2="110.0" y2="155.9" stroke="#333" stroke-width="0.6"/>
<line x1="25.7" y1="75.6" x2="27.9" y2="75.6" stroke="#333" stroke-width="0.6"/>
<text x="110.0" y="163.0" font-size="6.9" text-anchor="middle" fill="#404040">40</text>
<text x="24.2" y="78.2" font-size="6.9" text-anchor="end" fill="#404040">40</text>
<line x1="147.9" y1="153.7" x2="147.9" y2="155.9" stroke="#333" stroke-width="0.6"/>
<line x1="25.7" y1="39.6" x2="27.9" y2="39.6" stroke="#333" stroke-width="0.6"/>
<text x="147.9" y="163.0" font-size="6.9" text-anchor="middle" fill="#404040">60</text>
<text x="24.2" y="42.2" font-size="6.9" text-anchor="end" fill="#404040">60</text>
<text x="100.7" y="173.2" font-size="6.9" font-weight="bold" text-anchor="middle" fill="#000" xml:space="preserve">Measured LCC  (µg  cm<tspan font-size="4.8" dy="-3.7">-2</tspan><tspan dy="3.7">)</tspan></text>
<text transform="translate(11.9,85.1) rotate(-90)" font-size="6.9" font-weight="bold" text-anchor="middle" fill="#000" xml:space="preserve">Estimated LCC  (µg  cm<tspan font-size="4.8" dy="-3.7">-2</tspan><tspan dy="3.7">)</tspan></text>
<text x="100.7" y="10.9" font-size="6.9" font-weight="bold" text-anchor="middle" fill="#000">Random forest (RF)</text>
<text x="8.2" y="12.9" font-size="9.6" font-weight="bold" letter-spacing="0.15" fill="#000">(c)</text>
</g>
<g transform="translate(175.00,177.40)">
<rect x="27.9" y="15.5" width="145.5" height="138.2" fill="#fff"/>
<line x1="53.2" y1="15.5" x2="53.2" y2="153.7" stroke="#f4f4f4" stroke-width="0.7"/>
<line x1="27.9" y1="129.6" x2="173.4" y2="129.6" stroke="#f4f4f4" stroke-width="0.7"/>
<line x1="91.1" y1="15.5" x2="91.1" y2="153.7" stroke="#f4f4f4" stroke-width="0.7"/>
<line x1="27.9" y1="93.6" x2="173.4" y2="93.6" stroke="#f4f4f4" stroke-width="0.7"/>
<line x1="128.9" y1="15.5" x2="128.9" y2="153.7" stroke="#f4f4f4" stroke-width="0.7"/>
<line x1="27.9" y1="57.6" x2="173.4" y2="57.6" stroke="#f4f4f4" stroke-width="0.7"/>
<line x1="166.8" y1="15.5" x2="166.8" y2="153.7" stroke="#f4f4f4" stroke-width="0.7"/>
<line x1="27.9" y1="21.6" x2="173.4" y2="21.6" stroke="#f4f4f4" stroke-width="0.7"/>
<line x1="34.3" y1="15.5" x2="34.3" y2="153.7" stroke="#eeeeee" stroke-width="0.9"/>
<line x1="27.9" y1="147.6" x2="173.4" y2="147.6" stroke="#eeeeee" stroke-width="0.9"/>
<line x1="72.2" y1="15.5" x2="72.2" y2="153.7" stroke="#eeeeee" stroke-width="0.9"/>
<line x1="27.9" y1="111.6" x2="173.4" y2="111.6" stroke="#eeeeee" stroke-width="0.9"/>
<line x1="110.0" y1="15.5" x2="110.0" y2="153.7" stroke="#eeeeee" stroke-width="0.9"/>
<line x1="27.9" y1="75.6" x2="173.4" y2="75.6" stroke="#eeeeee" stroke-width="0.9"/>
<line x1="147.9" y1="15.5" x2="147.9" y2="153.7" stroke="#eeeeee" stroke-width="0.9"/>
<line x1="27.9" y1="39.6" x2="173.4" y2="39.6" stroke="#eeeeee" stroke-width="0.9"/>
<path d="M87.16 74.03L89.52 69.95L91.88 74.03Z" fill="#FAA714"/>
<path d="M96.41 80.85L98.77 76.77L101.13 80.85Z" fill="#FAA714"/>
<circle cx="81.6" cy="74.8" r="1.75" fill="#06BB5C"/>
<circle cx="81.2" cy="77.3" r="1.75" fill="#06BB5C"/>
<circle cx="66.7" cy="83.4" r="1.75" fill="#06BB5C"/>
<circle cx="91.4" cy="87.0" r="1.75" fill="#06BB5C"/>
<circle cx="70.6" cy="91.4" r="1.75" fill="#06BB5C"/>
<path d="M110.19 50.48L112.55 46.40L114.91 50.48Z" fill="#06BB5C"/>
<path d="M112.08 52.82L114.44 48.74L116.80 52.82Z" fill="#06BB5C"/>
<path d="M115.67 54.98L118.03 50.90L120.39 54.98Z" fill="#06BB5C"/>
<path d="M125.67 53.72L128.03 49.64L130.39 53.72Z" fill="#06BB5C"/>
<path d="M127.37 52.10L129.73 48.02L132.09 52.10Z" fill="#06BB5C"/>
<path d="M145.12 51.02L147.48 46.94L149.84 51.02Z" fill="#06BB5C"/>
<path d="M144.36 55.34L146.72 51.26L149.08 55.34Z" fill="#06BB5C"/>
<path d="M150.41 55.88L152.77 51.80L155.13 55.88Z" fill="#06BB5C"/>
<path d="M145.12 53.18L147.48 49.10L149.84 53.18Z" fill="#06BB5C"/>
<path d="M101.88 76.36L104.24 72.28L106.60 76.36Z" fill="#FAA714"/>
<path d="M103.58 77.44L105.94 73.36L108.30 77.44Z" fill="#FAA714"/>
<path d="M112.08 79.24L114.44 75.16L116.80 79.24Z" fill="#FAA714"/>
<path d="M115.67 81.39L118.03 77.31L120.39 81.39Z" fill="#FAA714"/>
<path d="M96.60 80.85L98.96 76.77L101.32 80.85Z" fill="#FAA714"/>
<path d="M127.94 76.36L130.30 72.28L132.66 76.36Z" fill="#FAA714"/>
<path d="M133.41 78.52L135.77 74.44L138.13 78.52Z" fill="#FAA714"/>
<path d="M127.94 80.67L130.30 76.59L132.66 80.67Z" fill="#FAA714"/>
<path d="M106.98 90.74L109.34 86.66L111.70 90.74Z" fill="#FAA714"/>
<path d="M119.07 91.82L121.43 87.74L123.79 91.82Z" fill="#FAA714"/>
<path d="M135.68 73.13L138.04 69.05L140.40 73.13Z" fill="#06BB5C"/>
<path d="M138.89 74.74L141.25 70.66L143.61 74.74Z" fill="#06BB5C"/>
<path d="M129.07 81.93L131.43 77.85L133.79 81.93Z" fill="#06BB5C"/>
<path d="M130.20 84.09L132.56 80.01L134.92 84.09Z" fill="#06BB5C"/>
<path d="M129.07 85.17L131.43 81.09L133.79 85.17Z" fill="#06BB5C"/>
<path d="M145.12 80.13L147.48 76.05L149.84 80.13Z" fill="#06BB5C"/>
<path d="M150.97 81.93L153.33 77.85L155.69 81.93Z" fill="#06BB5C"/>
<path d="M134.55 81.93L136.91 77.85L139.27 81.93Z" fill="#06BB5C"/>
<path d="M113.59 88.40L115.95 84.32L118.31 88.40Z" fill="#06BB5C"/>
<path d="M121.33 83.55L123.69 79.47L126.05 83.55Z" fill="#06BB5C"/>
<circle cx="138.0" cy="87.0" r="1.75" fill="#06BB5C"/>
<circle cx="108.8" cy="81.7" r="1.75" fill="#06BB5C"/>
<circle cx="101.6" cy="85.2" r="1.75" fill="#06BB5C"/>
<circle cx="104.8" cy="88.1" r="1.75" fill="#06BB5C"/>
<circle cx="119.2" cy="86.0" r="1.75" fill="#06BB5C"/>
<circle cx="122.6" cy="84.5" r="1.75" fill="#06BB5C"/>
<circle cx="124.6" cy="87.0" r="1.75" fill="#06BB5C"/>
<circle cx="104.2" cy="90.5" r="1.75" fill="#06BB5C"/>
<circle cx="140.1" cy="91.5" r="1.75" fill="#06BB5C"/>
<circle cx="67.6" cy="97.8" r="1.75" fill="#06BB5C"/>
<circle cx="69.7" cy="98.4" r="1.75" fill="#06BB5C"/>
<circle cx="71.8" cy="96.7" r="1.75" fill="#06BB5C"/>
<circle cx="72.7" cy="98.4" r="1.75" fill="#06BB5C"/>
<circle cx="81.2" cy="94.8" r="1.75" fill="#06BB5C"/>
<circle cx="87.1" cy="98.7" r="1.75" fill="#06BB5C"/>
<circle cx="88.6" cy="97.8" r="1.75" fill="#06BB5C"/>
<circle cx="89.3" cy="106.6" r="1.75" fill="#06BB5C"/>
<circle cx="92.7" cy="106.6" r="1.75" fill="#06BB5C"/>
<circle cx="97.1" cy="104.8" r="1.75" fill="#06BB5C"/>
<circle cx="80.5" cy="103.9" r="1.75" fill="#06BB5C"/>
<circle cx="68.8" cy="109.0" r="1.75" fill="#06BB5C"/>
<circle cx="60.1" cy="102.9" r="1.75" fill="#FAA714"/>
<circle cx="82.0" cy="104.8" r="1.75" fill="#FAA714"/>
<circle cx="85.0" cy="102.9" r="1.75" fill="#FAA714"/>
<circle cx="88.0" cy="103.9" r="1.75" fill="#FAA714"/>
<circle cx="67.6" cy="110.9" r="1.75" fill="#FAA714"/>
<circle cx="66.7" cy="112.0" r="1.75" fill="#FAA714"/>
<circle cx="45.3" cy="112.0" r="1.75" fill="#FAA714"/>
<circle cx="47.2" cy="113.1" r="1.75" fill="#FAA714"/>
<circle cx="50.1" cy="112.7" r="1.75" fill="#FAA714"/>
<circle cx="51.9" cy="113.5" r="1.75" fill="#FAA714"/>
<circle cx="43.3" cy="118.1" r="1.75" fill="#FAA714"/>
<circle cx="47.2" cy="116.7" r="1.75" fill="#FAA714"/>
<circle cx="50.1" cy="117.1" r="1.75" fill="#FAA714"/>
<circle cx="52.3" cy="118.1" r="1.75" fill="#FAA714"/>
<circle cx="54.0" cy="119.6" r="1.75" fill="#FAA714"/>
<circle cx="56.5" cy="120.3" r="1.75" fill="#FAA714"/>
<circle cx="58.2" cy="118.8" r="1.75" fill="#FAA714"/>
<circle cx="59.5" cy="115.1" r="1.75" fill="#FAA714"/>
<circle cx="61.6" cy="115.1" r="1.75" fill="#FAA714"/>
<circle cx="63.1" cy="120.3" r="1.75" fill="#FAA714"/>
<circle cx="66.7" cy="119.6" r="1.75" fill="#FAA714"/>
<circle cx="71.8" cy="120.8" r="1.75" fill="#FAA714"/>
<circle cx="73.8" cy="114.2" r="1.75" fill="#FAA714"/>
<circle cx="75.7" cy="115.1" r="1.75" fill="#FAA714"/>
<circle cx="77.8" cy="114.2" r="1.75" fill="#FAA714"/>
<circle cx="79.3" cy="116.2" r="1.75" fill="#FAA714"/>
<circle cx="82.0" cy="116.7" r="1.75" fill="#FAA714"/>
<circle cx="74.8" cy="117.1" r="1.75" fill="#FAA714"/>
<circle cx="79.9" cy="119.2" r="1.75" fill="#FAA714"/>
<circle cx="77.8" cy="109.3" r="1.75" fill="#FAA714"/>
<circle cx="80.8" cy="110.6" r="1.75" fill="#FAA714"/>
<circle cx="82.9" cy="107.0" r="1.75" fill="#FAA714"/>
<circle cx="83.9" cy="108.6" r="1.75" fill="#FAA714"/>
<circle cx="93.1" cy="110.0" r="1.75" fill="#FAA714"/>
<circle cx="94.0" cy="116.2" r="1.75" fill="#FAA714"/>
<circle cx="96.1" cy="116.7" r="1.75" fill="#FAA714"/>
<path d="M87.72 101.34L90.08 97.26L92.44 101.34Z" fill="#FAA714"/>
<path d="M90.75 102.24L93.11 98.16L95.47 102.24Z" fill="#FAA714"/>
<path d="M93.77 100.08L96.13 96.00L98.49 100.08Z" fill="#FAA714"/>
<path d="M95.84 101.34L98.20 97.26L100.56 101.34Z" fill="#FAA714"/>
<circle cx="104.2" cy="90.1" r="1.75" fill="#06BB5C"/>
<circle cx="107.6" cy="86.9" r="1.75" fill="#06BB5C"/>
<circle cx="110.3" cy="88.7" r="1.75" fill="#06BB5C"/>
<circle cx="112.0" cy="87.2" r="1.75" fill="#06BB5C"/>
<circle cx="119.7" cy="86.3" r="1.75" fill="#06BB5C"/>
<circle cx="122.9" cy="87.2" r="1.75" fill="#06BB5C"/>
<circle cx="124.8" cy="85.8" r="1.75" fill="#06BB5C"/>
<circle cx="138.0" cy="87.9" r="1.75" fill="#06BB5C"/>
<circle cx="140.1" cy="93.0" r="1.75" fill="#06BB5C"/>
<circle cx="135.8" cy="96.7" r="1.75" fill="#06BB5C"/>
<circle cx="114.3" cy="94.6" r="1.75" fill="#06BB5C"/>
<circle cx="116.0" cy="101.1" r="1.75" fill="#06BB5C"/>
<circle cx="117.5" cy="103.9" r="1.75" fill="#06BB5C"/>
<circle cx="101.0" cy="96.7" r="1.75" fill="#06BB5C"/>
<circle cx="104.2" cy="97.8" r="1.75" fill="#06BB5C"/>
<circle cx="107.6" cy="97.5" r="1.75" fill="#06BB5C"/>
<circle cx="93.1" cy="100.0" r="1.75" fill="#06BB5C"/>
<circle cx="97.6" cy="105.6" r="1.75" fill="#06BB5C"/>
<circle cx="99.9" cy="104.5" r="1.75" fill="#06BB5C"/>
<circle cx="107.6" cy="106.3" r="1.75" fill="#06BB5C"/>
<circle cx="91.0" cy="106.6" r="1.75" fill="#06BB5C"/>
<path d="M113.59 89.30L115.95 85.22L118.31 89.30Z" fill="#06BB5C"/>
<path d="M118.50 92.53L120.86 88.45L123.22 92.53Z" fill="#FAA714"/>
<path d="M121.90 92.53L124.26 88.45L126.62 92.53Z" fill="#FAA714"/>
<path d="M121.14 101.34L123.50 97.26L125.86 101.34Z" fill="#FAA714"/>
<path d="M101.88 94.33L104.24 90.25L106.60 94.33Z" fill="#FAA714"/>
<path d="M106.98 95.23L109.34 91.15L111.70 95.23Z" fill="#FAA714"/>
<path d="M94.14 100.26L96.50 96.18L98.86 100.26Z" fill="#FAA714"/>
<path d="M98.30 100.98L100.66 96.90L103.02 100.98Z" fill="#FAA714"/>
<path d="M104.15 101.88L106.51 97.80L108.87 101.88Z" fill="#FAA714"/>
<path d="M90.18 104.57L92.54 100.49L94.90 104.57Z" fill="#FAA714"/>
<path d="M94.14 105.29L96.50 101.21L98.86 105.29Z" fill="#FAA714"/>
<path d="M99.81 103.50L102.17 99.42L104.53 103.50Z" fill="#FAA714"/>
<circle cx="92.2" cy="100.0" r="1.75" fill="#FAA714"/>
<circle cx="91.0" cy="97.8" r="1.75" fill="#FAA714"/>
<circle cx="109.7" cy="104.8" r="1.75" fill="#FAA714"/>
<circle cx="92.2" cy="110.6" r="1.75" fill="#FAA714"/>
<circle cx="93.3" cy="116.0" r="1.75" fill="#FAA714"/>
<circle cx="95.6" cy="116.0" r="1.75" fill="#FAA714"/>
<circle cx="110.3" cy="119.4" r="1.75" fill="#FAA714"/>
<path d="M102.26 76.00L104.62 71.92L106.98 76.00Z" fill="#FAA714"/>
<path d="M104.53 77.44L106.89 73.36L109.25 77.44Z" fill="#FAA714"/>
<path d="M87.54 74.74L89.90 70.66L92.26 74.74Z" fill="#FAA714"/>
<path d="M96.79 80.31L99.15 76.23L101.51 80.31Z" fill="#FAA714"/>
<path d="M112.27 79.60L114.63 75.52L116.99 79.60Z" fill="#FAA714"/>
<path d="M115.67 80.31L118.03 76.23L120.39 80.31Z" fill="#FAA714"/>
<path d="M100.94 94.51L103.30 90.43L105.66 94.51Z" fill="#FAA714"/>
<path d="M107.36 95.23L109.72 91.15L112.08 95.23Z" fill="#FAA714"/>
<path d="M98.11 100.80L100.47 96.72L102.83 100.80Z" fill="#FAA714"/>
<path d="M103.77 102.24L106.13 98.16L108.49 102.24Z" fill="#FAA714"/>
<path d="M120.76 101.52L123.12 97.44L125.48 101.52Z" fill="#FAA714"/>
<path d="M118.69 92.35L121.05 88.27L123.41 92.35Z" fill="#FAA714"/>
<path d="M120.76 93.07L123.12 88.99L125.48 93.07Z" fill="#FAA714"/>
<circle cx="81.4" cy="76.1" r="1.75" fill="#06BB5C"/>
<circle cx="109.0" cy="82.5" r="1.75" fill="#06BB5C"/>
<circle cx="91.2" cy="86.7" r="1.75" fill="#06BB5C"/>
<circle cx="101.2" cy="86.7" r="1.75" fill="#06BB5C"/>
<circle cx="107.5" cy="86.0" r="1.75" fill="#06BB5C"/>
<circle cx="109.7" cy="86.7" r="1.75" fill="#06BB5C"/>
<circle cx="110.5" cy="88.8" r="1.75" fill="#06BB5C"/>
<circle cx="123.9" cy="88.8" r="1.75" fill="#06BB5C"/>
<circle cx="104.6" cy="90.3" r="1.75" fill="#06BB5C"/>
<circle cx="81.4" cy="95.1" r="1.75" fill="#06BB5C"/>
<circle cx="114.6" cy="94.6" r="1.75" fill="#06BB5C"/>
<circle cx="101.2" cy="95.8" r="1.75" fill="#06BB5C"/>
<circle cx="104.6" cy="97.6" r="1.75" fill="#06BB5C"/>
<circle cx="108.2" cy="97.6" r="1.75" fill="#06BB5C"/>
<circle cx="116.0" cy="100.9" r="1.75" fill="#06BB5C"/>
<circle cx="117.5" cy="103.8" r="1.75" fill="#06BB5C"/>
<path d="M108.68 90.74L111.04 86.66L113.40 90.74Z" fill="#06BB5C"/>
<path d="M113.59 88.76L115.95 84.68L118.31 88.76Z" fill="#06BB5C"/>
<path d="M119.25 83.91L121.61 79.83L123.97 83.91Z" fill="#06BB5C"/>
<path d="M121.52 82.47L123.88 78.39L126.24 82.47Z" fill="#06BB5C"/>
<path d="M120.76 87.32L123.12 83.24L125.48 87.32Z" fill="#06BB5C"/>
<path d="M118.69 88.04L121.05 83.96L123.41 88.04Z" fill="#06BB5C"/>
<path d="M122.84 88.04L125.20 83.96L127.56 88.04Z" fill="#06BB5C"/>
<line x1="32.31" y1="149.49" x2="170.60" y2="18.00" stroke="#000" stroke-width="1.65" stroke-dasharray="5.7 5.9"/>
<rect x="27.9" y="15.5" width="21.3" height="8.1" fill="#d5d5d5" stroke="#fff" stroke-width="0.8"/>
<rect x="27.9" y="23.6" width="21.3" height="8.2" fill="#f2f2f2" stroke="#fff" stroke-width="0.8"/>
<text x="38.5" y="21.9" font-size="4.75" font-weight="bold" text-anchor="middle" fill="#222">RMSE</text>
<text x="38.5" y="30.1" font-size="4.75" text-anchor="middle" fill="#222">10.52</text>
<rect x="49.2" y="15.5" width="24.2" height="8.1" fill="#d5d5d5" stroke="#fff" stroke-width="0.8"/>
<rect x="49.2" y="23.6" width="24.2" height="8.2" fill="#f2f2f2" stroke="#fff" stroke-width="0.8"/>
<text x="61.3" y="21.9" font-size="4.75" font-weight="bold" text-anchor="middle" fill="#222">NRMSE</text>
<text x="61.3" y="30.1" font-size="4.75" text-anchor="middle" fill="#222">32.3</text>
<rect x="73.4" y="15.5" width="16.6" height="8.1" fill="#d5d5d5" stroke="#fff" stroke-width="0.8"/>
<rect x="73.4" y="23.6" width="16.6" height="8.2" fill="#f2f2f2" stroke="#fff" stroke-width="0.8"/>
<text x="81.7" y="21.9" font-size="4.75" font-weight="bold" text-anchor="middle" fill="#222">R²</text>
<text x="81.7" y="30.1" font-size="4.75" text-anchor="middle" fill="#222">0.56</text>
<rect x="90.0" y="15.5" width="16.6" height="8.1" fill="#d5d5d5" stroke="#fff" stroke-width="0.8"/>
<rect x="90.0" y="23.6" width="16.6" height="8.2" fill="#f2f2f2" stroke="#fff" stroke-width="0.8"/>
<text x="98.3" y="21.9" font-size="4.75" font-weight="bold" text-anchor="middle" fill="#222">Bias</text>
<text x="98.3" y="30.1" font-size="4.75" text-anchor="middle" fill="#222">4.4</text>
<rect x="27.9" y="15.5" width="145.5" height="138.2" fill="none" stroke="#b5b5b5" stroke-width="1.1"/>
<line x1="34.3" y1="153.7" x2="34.3" y2="155.9" stroke="#333" stroke-width="0.6"/>
<line x1="25.7" y1="147.6" x2="27.9" y2="147.6" stroke="#333" stroke-width="0.6"/>
<text x="34.3" y="163.0" font-size="6.9" text-anchor="middle" fill="#404040">0</text>
<text x="24.2" y="150.2" font-size="6.9" text-anchor="end" fill="#404040">0</text>
<line x1="72.2" y1="153.7" x2="72.2" y2="155.9" stroke="#333" stroke-width="0.6"/>
<line x1="25.7" y1="111.6" x2="27.9" y2="111.6" stroke="#333" stroke-width="0.6"/>
<text x="72.2" y="163.0" font-size="6.9" text-anchor="middle" fill="#404040">20</text>
<text x="24.2" y="114.2" font-size="6.9" text-anchor="end" fill="#404040">20</text>
<line x1="110.0" y1="153.7" x2="110.0" y2="155.9" stroke="#333" stroke-width="0.6"/>
<line x1="25.7" y1="75.6" x2="27.9" y2="75.6" stroke="#333" stroke-width="0.6"/>
<text x="110.0" y="163.0" font-size="6.9" text-anchor="middle" fill="#404040">40</text>
<text x="24.2" y="78.2" font-size="6.9" text-anchor="end" fill="#404040">40</text>
<line x1="147.9" y1="153.7" x2="147.9" y2="155.9" stroke="#333" stroke-width="0.6"/>
<line x1="25.7" y1="39.6" x2="27.9" y2="39.6" stroke="#333" stroke-width="0.6"/>
<text x="147.9" y="163.0" font-size="6.9" text-anchor="middle" fill="#404040">60</text>
<text x="24.2" y="42.2" font-size="6.9" text-anchor="end" fill="#404040">60</text>
<text x="100.7" y="173.2" font-size="6.9" font-weight="bold" text-anchor="middle" fill="#000" xml:space="preserve">Measured LCC  (µg  cm<tspan font-size="4.8" dy="-3.7">-2</tspan><tspan dy="3.7">)</tspan></text>
<text transform="translate(11.9,85.1) rotate(-90)" font-size="6.9" font-weight="bold" text-anchor="middle" fill="#000" xml:space="preserve">Estimated LCC  (µg  cm<tspan font-size="4.8" dy="-3.7">-2</tspan><tspan dy="3.7">)</tspan></text>
<text x="100.7" y="10.9" font-size="6.9" font-weight="bold" text-anchor="middle" fill="#000">Artificial neural network (ANN)</text>
<text x="8.2" y="12.9" font-size="9.6" font-weight="bold" letter-spacing="0.15" fill="#000">(d)</text>
</g>
<g transform="translate(0.00,354.80)">
<rect x="27.9" y="15.5" width="145.5" height="138.2" fill="#fff"/>
<line x1="53.2" y1="15.5" x2="53.2" y2="153.7" stroke="#f4f4f4" stroke-width="0.7"/>
<line x1="27.9" y1="129.6" x2="173.4" y2="129.6" stroke="#f4f4f4" stroke-width="0.7"/>
<line x1="91.1" y1="15.5" x2="91.1" y2="153.7" stroke="#f4f4f4" stroke-width="0.7"/>
<line x1="27.9" y1="93.6" x2="173.4" y2="93.6" stroke="#f4f4f4" stroke-width="0.7"/>
<line x1="128.9" y1="15.5" x2="128.9" y2="153.7" stroke="#f4f4f4" stroke-width="0.7"/>
<line x1="27.9" y1="57.6" x2="173.4" y2="57.6" stroke="#f4f4f4" stroke-width="0.7"/>
<line x1="166.8" y1="15.5" x2="166.8" y2="153.7" stroke="#f4f4f4" stroke-width="0.7"/>
<line x1="27.9" y1="21.6" x2="173.4" y2="21.6" stroke="#f4f4f4" stroke-width="0.7"/>
<line x1="34.3" y1="15.5" x2="34.3" y2="153.7" stroke="#eeeeee" stroke-width="0.9"/>
<line x1="27.9" y1="147.6" x2="173.4" y2="147.6" stroke="#eeeeee" stroke-width="0.9"/>
<line x1="72.2" y1="15.5" x2="72.2" y2="153.7" stroke="#eeeeee" stroke-width="0.9"/>
<line x1="27.9" y1="111.6" x2="173.4" y2="111.6" stroke="#eeeeee" stroke-width="0.9"/>
<line x1="110.0" y1="15.5" x2="110.0" y2="153.7" stroke="#eeeeee" stroke-width="0.9"/>
<line x1="27.9" y1="75.6" x2="173.4" y2="75.6" stroke="#eeeeee" stroke-width="0.9"/>
<line x1="147.9" y1="15.5" x2="147.9" y2="153.7" stroke="#eeeeee" stroke-width="0.9"/>
<line x1="27.9" y1="39.6" x2="173.4" y2="39.6" stroke="#eeeeee" stroke-width="0.9"/>
<path d="M86.97 65.76L89.33 61.68L91.69 65.76Z" fill="#FAA714"/>
<path d="M96.41 71.69L98.77 67.61L101.13 71.69Z" fill="#FAA714"/>
<path d="M87.72 93.25L90.08 89.17L92.44 93.25Z" fill="#FAA714"/>
<circle cx="81.4" cy="66.9" r="1.75" fill="#06BB5C"/>
<circle cx="81.2" cy="68.9" r="1.75" fill="#06BB5C"/>
<circle cx="66.7" cy="73.9" r="1.75" fill="#06BB5C"/>
<circle cx="91.4" cy="77.0" r="1.75" fill="#06BB5C"/>
<circle cx="81.4" cy="85.8" r="1.75" fill="#06BB5C"/>
<circle cx="70.6" cy="84.5" r="1.75" fill="#06BB5C"/>
<circle cx="72.3" cy="85.2" r="1.75" fill="#06BB5C"/>
<circle cx="70.3" cy="87.2" r="1.75" fill="#06BB5C"/>
<circle cx="67.6" cy="90.3" r="1.75" fill="#06BB5C"/>
<circle cx="71.4" cy="89.2" r="1.75" fill="#06BB5C"/>
<circle cx="85.9" cy="88.1" r="1.75" fill="#06BB5C"/>
<circle cx="88.6" cy="87.8" r="1.75" fill="#06BB5C"/>
<circle cx="87.1" cy="91.4" r="1.75" fill="#06BB5C"/>
<circle cx="92.2" cy="89.7" r="1.75" fill="#06BB5C"/>
<path d="M110.19 50.48L112.55 46.40L114.91 50.48Z" fill="#06BB5C"/>
<path d="M112.46 52.82L114.82 48.74L117.18 52.82Z" fill="#06BB5C"/>
<path d="M115.10 53.90L117.46 49.82L119.82 53.90Z" fill="#06BB5C"/>
<path d="M125.67 53.18L128.03 49.10L130.39 53.18Z" fill="#06BB5C"/>
<path d="M145.12 51.02L147.48 46.94L149.84 51.02Z" fill="#06BB5C"/>
<path d="M145.50 53.90L147.86 49.82L150.22 53.90Z" fill="#06BB5C"/>
<path d="M144.36 54.98L146.72 50.90L149.08 54.98Z" fill="#06BB5C"/>
<path d="M150.41 54.62L152.77 50.54L155.13 54.62Z" fill="#06BB5C"/>
<path d="M96.03 70.79L98.39 66.71L100.75 70.79Z" fill="#FAA714"/>
<path d="M101.88 68.27L104.24 64.19L106.60 68.27Z" fill="#FAA714"/>
<path d="M104.15 68.63L106.51 64.55L108.87 68.63Z" fill="#FAA714"/>
<path d="M112.08 69.89L114.44 65.81L116.80 69.89Z" fill="#FAA714"/>
<path d="M115.67 71.51L118.03 67.43L120.39 71.51Z" fill="#FAA714"/>
<path d="M127.94 67.20L130.30 63.12L132.66 67.20Z" fill="#FAA714"/>
<path d="M127.94 71.51L130.30 67.43L132.66 71.51Z" fill="#FAA714"/>
<path d="M133.41 70.43L135.77 66.35L138.13 70.43Z" fill="#FAA714"/>
<path d="M135.68 66.48L138.04 62.40L140.40 66.48Z" fill="#06BB5C"/>
<path d="M138.89 68.27L141.25 64.19L143.61 68.27Z" fill="#06BB5C"/>
<path d="M144.36 71.51L146.72 67.43L149.08 71.51Z" fill="#06BB5C"/>
<path d="M150.41 73.85L152.77 69.77L155.13 73.85Z" fill="#06BB5C"/>
<path d="M138.89 74.92L141.25 70.84L143.61 74.92Z" fill="#06BB5C"/>
<path d="M129.07 73.85L131.43 69.77L133.79 73.85Z" fill="#06BB5C"/>
<path d="M129.64 76.00L132.00 71.92L134.36 76.00Z" fill="#06BB5C"/>
<path d="M129.07 77.08L131.43 73.00L133.79 77.08Z" fill="#06BB5C"/>
<path d="M119.07 75.28L121.43 71.20L123.79 75.28Z" fill="#06BB5C"/>
<path d="M120.20 77.08L122.56 73.00L124.92 77.08Z" fill="#06BB5C"/>
<path d="M121.33 78.16L123.69 74.08L126.05 78.16Z" fill="#06BB5C"/>
<path d="M119.07 79.60L121.43 75.52L123.79 79.60Z" fill="#06BB5C"/>
<path d="M121.33 79.60L123.69 75.52L126.05 79.60Z" fill="#06BB5C"/>
<path d="M116.80 78.16L119.16 74.08L121.52 78.16Z" fill="#06BB5C"/>
<path d="M113.59 81.03L115.95 76.95L118.31 81.03Z" fill="#06BB5C"/>
<path d="M108.49 83.19L110.85 79.11L113.21 83.19Z" fill="#06BB5C"/>
<circle cx="135.8" cy="71.2" r="1.75" fill="#06BB5C"/>
<circle cx="101.2" cy="76.1" r="1.75" fill="#06BB5C"/>
<circle cx="103.9" cy="81.8" r="1.75" fill="#06BB5C"/>
<circle cx="107.1" cy="78.2" r="1.75" fill="#06BB5C"/>
<circle cx="108.8" cy="80.6" r="1.75" fill="#06BB5C"/>
<circle cx="138.0" cy="81.1" r="1.75" fill="#06BB5C"/>
<circle cx="140.1" cy="80.6" r="1.75" fill="#06BB5C"/>
<circle cx="135.2" cy="86.7" r="1.75" fill="#06BB5C"/>
<circle cx="114.4" cy="84.5" r="1.75" fill="#06BB5C"/>
<circle cx="116.0" cy="85.6" r="1.75" fill="#06BB5C"/>
<circle cx="104.8" cy="86.7" r="1.75" fill="#06BB5C"/>
<circle cx="114.8" cy="89.9" r="1.75" fill="#06BB5C"/>
<path d="M107.55 81.39L109.91 77.31L112.27 81.39Z" fill="#FAA714"/>
<path d="M118.69 86.24L121.05 82.16L123.41 86.24Z" fill="#FAA714"/>
<path d="M120.76 85.53L123.12 81.45L125.48 85.53Z" fill="#FAA714"/>
<path d="M106.98 89.12L109.34 85.04L111.70 89.12Z" fill="#FAA714"/>
<path d="M96.03 86.96L98.39 82.88L100.75 86.96Z" fill="#FAA714"/>
<circle cx="67.6" cy="90.3" r="1.75" fill="#06BB5C"/>
<circle cx="69.7" cy="92.3" r="1.75" fill="#06BB5C"/>
<circle cx="70.6" cy="88.3" r="1.75" fill="#06BB5C"/>
<circle cx="71.8" cy="86.1" r="1.75" fill="#06BB5C"/>
<circle cx="81.4" cy="86.5" r="1.75" fill="#06BB5C"/>
<circle cx="86.1" cy="90.1" r="1.75" fill="#06BB5C"/>
<circle cx="87.1" cy="92.8" r="1.75" fill="#06BB5C"/>
<circle cx="88.6" cy="94.0" r="1.75" fill="#06BB5C"/>
<circle cx="87.8" cy="89.2" r="1.75" fill="#06BB5C"/>
<circle cx="92.0" cy="90.5" r="1.75" fill="#06BB5C"/>
<circle cx="60.1" cy="97.8" r="1.75" fill="#FAA714"/>
<circle cx="48.4" cy="105.0" r="1.75" fill="#FAA714"/>
<circle cx="45.9" cy="109.1" r="1.75" fill="#FAA714"/>
<circle cx="50.8" cy="110.6" r="1.75" fill="#FAA714"/>
<circle cx="42.5" cy="117.2" r="1.75" fill="#FAA714"/>
<circle cx="46.7" cy="119.7" r="1.75" fill="#FAA714"/>
<circle cx="50.4" cy="117.2" r="1.75" fill="#FAA714"/>
<circle cx="53.5" cy="116.7" r="1.75" fill="#FAA714"/>
<circle cx="54.4" cy="119.7" r="1.75" fill="#FAA714"/>
<circle cx="56.5" cy="118.8" r="1.75" fill="#FAA714"/>
<circle cx="58.2" cy="119.4" r="1.75" fill="#FAA714"/>
<circle cx="59.5" cy="118.8" r="1.75" fill="#FAA714"/>
<circle cx="60.4" cy="112.7" r="1.75" fill="#FAA714"/>
<circle cx="61.6" cy="113.3" r="1.75" fill="#FAA714"/>
<circle cx="66.7" cy="104.5" r="1.75" fill="#FAA714"/>
<circle cx="67.6" cy="107.5" r="1.75" fill="#FAA714"/>
<circle cx="66.7" cy="110.6" r="1.75" fill="#FAA714"/>
<circle cx="63.7" cy="122.3" r="1.75" fill="#FAA714"/>
<circle cx="67.1" cy="121.4" r="1.75" fill="#FAA714"/>
<circle cx="66.1" cy="124.2" r="1.75" fill="#FAA714"/>
<circle cx="71.8" cy="125.9" r="1.75" fill="#FAA714"/>
<circle cx="60.4" cy="129.5" r="1.75" fill="#FAA714"/>
<circle cx="74.4" cy="113.6" r="1.75" fill="#FAA714"/>
<circle cx="75.7" cy="115.6" r="1.75" fill="#FAA714"/>
<circle cx="76.9" cy="117.8" r="1.75" fill="#FAA714"/>
<circle cx="77.8" cy="115.3" r="1.75" fill="#FAA714"/>
<circle cx="78.8" cy="118.8" r="1.75" fill="#FAA714"/>
<circle cx="81.4" cy="116.7" r="1.75" fill="#FAA714"/>
<circle cx="78.8" cy="123.3" r="1.75" fill="#FAA714"/>
<circle cx="78.8" cy="105.6" r="1.75" fill="#FAA714"/>
<circle cx="80.5" cy="104.5" r="1.75" fill="#FAA714"/>
<circle cx="82.0" cy="102.5" r="1.75" fill="#FAA714"/>
<circle cx="82.9" cy="108.6" r="1.75" fill="#FAA714"/>
<circle cx="92.7" cy="109.1" r="1.75" fill="#FAA714"/>
<circle cx="95.6" cy="116.2" r="1.75" fill="#FAA714"/>
<circle cx="93.1" cy="121.4" r="1.75" fill="#FAA714"/>
<circle cx="68.8" cy="108.1" r="1.75" fill="#06BB5C"/>
<circle cx="81.2" cy="104.5" r="1.75" fill="#06BB5C"/>
<circle cx="89.3" cy="106.6" r="1.75" fill="#06BB5C"/>
<circle cx="97.1" cy="107.2" r="1.75" fill="#06BB5C"/>
<path d="M81.49 102.78L83.85 98.70L86.21 102.78Z" fill="#FAA714"/>
<path d="M84.70 100.80L87.06 96.72L89.42 100.80Z" fill="#FAA714"/>
<path d="M86.59 98.82L88.95 94.74L91.31 98.82Z" fill="#FAA714"/>
<path d="M89.80 101.88L92.16 97.80L94.52 101.88Z" fill="#FAA714"/>
<path d="M92.82 99.72L95.18 95.64L97.54 99.72Z" fill="#FAA714"/>
<path d="M94.71 100.80L97.07 96.72L99.43 100.80Z" fill="#FAA714"/>
<circle cx="91.2" cy="89.2" r="1.75" fill="#06BB5C"/>
<circle cx="103.9" cy="87.4" r="1.75" fill="#06BB5C"/>
<circle cx="114.1" cy="89.2" r="1.75" fill="#06BB5C"/>
<circle cx="115.6" cy="90.6" r="1.75" fill="#06BB5C"/>
<circle cx="135.4" cy="87.0" r="1.75" fill="#06BB5C"/>
<circle cx="97.8" cy="96.7" r="1.75" fill="#06BB5C"/>
<circle cx="100.8" cy="93.7" r="1.75" fill="#06BB5C"/>
<circle cx="107.8" cy="95.1" r="1.75" fill="#06BB5C"/>
<circle cx="90.3" cy="106.1" r="1.75" fill="#06BB5C"/>
<circle cx="96.9" cy="107.2" r="1.75" fill="#06BB5C"/>
<circle cx="107.5" cy="105.0" r="1.75" fill="#06BB5C"/>
<circle cx="117.1" cy="104.7" r="1.75" fill="#06BB5C"/>
<path d="M107.17 89.12L109.53 85.04L111.89 89.12Z" fill="#FAA714"/>
<path d="M118.69 86.60L121.05 82.52L123.41 86.60Z" fill="#FAA714"/>
<path d="M120.95 96.49L123.31 92.41L125.67 96.49Z" fill="#FAA714"/>
<path d="M93.39 95.41L95.75 91.33L98.11 95.41Z" fill="#FAA714"/>
<path d="M94.52 99.72L96.88 95.64L99.24 99.72Z" fill="#FAA714"/>
<path d="M100.00 99.72L102.36 95.64L104.72 99.72Z" fill="#FAA714"/>
<path d="M103.21 98.64L105.57 94.56L107.93 98.64Z" fill="#FAA714"/>
<circle cx="92.4" cy="99.4" r="1.75" fill="#FAA714"/>
<circle cx="96.3" cy="102.3" r="1.75" fill="#FAA714"/>
<circle cx="100.1" cy="102.3" r="1.75" fill="#FAA714"/>
<circle cx="89.1" cy="99.4" r="1.75" fill="#FAA714"/>
<circle cx="109.9" cy="104.7" r="1.75" fill="#FAA714"/>
<circle cx="92.0" cy="109.3" r="1.75" fill="#FAA714"/>
<circle cx="95.7" cy="116.5" r="1.75" fill="#FAA714"/>
<circle cx="93.5" cy="120.8" r="1.75" fill="#FAA714"/>
<circle cx="109.9" cy="119.9" r="1.75" fill="#FAA714"/>
<line x1="32.31" y1="149.49" x2="170.60" y2="18.00" stroke="#000" stroke-width="1.65" stroke-dasharray="5.7 5.9"/>
<rect x="27.9" y="15.5" width="21.3" height="8.1" fill="#d5d5d5" stroke="#fff" stroke-width="0.8"/>
<rect x="27.9" y="23.6" width="21.3" height="8.2" fill="#f2f2f2" stroke="#fff" stroke-width="0.8"/>
<text x="38.5" y="21.9" font-size="4.75" font-weight="bold" text-anchor="middle" fill="#222">RMSE</text>
<text x="38.5" y="30.1" font-size="4.75" text-anchor="middle" fill="#222">9.69</text>
<rect x="49.2" y="15.5" width="24.2" height="8.1" fill="#d5d5d5" stroke="#fff" stroke-width="0.8"/>
<rect x="49.2" y="23.6" width="24.2" height="8.2" fill="#f2f2f2" stroke="#fff" stroke-width="0.8"/>
<text x="61.3" y="21.9" font-size="4.75" font-weight="bold" text-anchor="middle" fill="#222">NRMSE</text>
<text x="61.3" y="30.1" font-size="4.75" text-anchor="middle" fill="#222">29.7</text>
<rect x="73.4" y="15.5" width="16.6" height="8.1" fill="#d5d5d5" stroke="#fff" stroke-width="0.8"/>
<rect x="73.4" y="23.6" width="16.6" height="8.2" fill="#f2f2f2" stroke="#fff" stroke-width="0.8"/>
<text x="81.7" y="21.9" font-size="4.75" font-weight="bold" text-anchor="middle" fill="#222">R²</text>
<text x="81.7" y="30.1" font-size="4.75" text-anchor="middle" fill="#222">0.57</text>
<rect x="90.0" y="15.5" width="16.6" height="8.1" fill="#d5d5d5" stroke="#fff" stroke-width="0.8"/>
<rect x="90.0" y="23.6" width="16.6" height="8.2" fill="#f2f2f2" stroke="#fff" stroke-width="0.8"/>
<text x="98.3" y="21.9" font-size="4.75" font-weight="bold" text-anchor="middle" fill="#222">Bias</text>
<text x="98.3" y="30.1" font-size="4.75" text-anchor="middle" fill="#222">2.3</text>
<rect x="27.9" y="15.5" width="145.5" height="138.2" fill="none" stroke="#b5b5b5" stroke-width="1.1"/>
<line x1="34.3" y1="153.7" x2="34.3" y2="155.9" stroke="#333" stroke-width="0.6"/>
<line x1="25.7" y1="147.6" x2="27.9" y2="147.6" stroke="#333" stroke-width="0.6"/>
<text x="34.3" y="163.0" font-size="6.9" text-anchor="middle" fill="#404040">0</text>
<text x="24.2" y="150.2" font-size="6.9" text-anchor="end" fill="#404040">0</text>
<line x1="72.2" y1="153.7" x2="72.2" y2="155.9" stroke="#333" stroke-width="0.6"/>
<line x1="25.7" y1="111.6" x2="27.9" y2="111.6" stroke="#333" stroke-width="0.6"/>
<text x="72.2" y="163.0" font-size="6.9" text-anchor="middle" fill="#404040">20</text>
<text x="24.2" y="114.2" font-size="6.9" text-anchor="end" fill="#404040">20</text>
<line x1="110.0" y1="153.7" x2="110.0" y2="155.9" stroke="#333" stroke-width="0.6"/>
<line x1="25.7" y1="75.6" x2="27.9" y2="75.6" stroke="#333" stroke-width="0.6"/>
<text x="110.0" y="163.0" font-size="6.9" text-anchor="middle" fill="#404040">40</text>
<text x="24.2" y="78.2" font-size="6.9" text-anchor="end" fill="#404040">40</text>
<line x1="147.9" y1="153.7" x2="147.9" y2="155.9" stroke="#333" stroke-width="0.6"/>
<line x1="25.7" y1="39.6" x2="27.9" y2="39.6" stroke="#333" stroke-width="0.6"/>
<text x="147.9" y="163.0" font-size="6.9" text-anchor="middle" fill="#404040">60</text>
<text x="24.2" y="42.2" font-size="6.9" text-anchor="end" fill="#404040">60</text>
<text x="100.7" y="173.2" font-size="6.9" font-weight="bold" text-anchor="middle" fill="#000" xml:space="preserve">Measured LCC  (µg  cm<tspan font-size="4.8" dy="-3.7">-2</tspan><tspan dy="3.7">)</tspan></text>
<text transform="translate(11.9,85.1) rotate(-90)" font-size="6.9" font-weight="bold" text-anchor="middle" fill="#000" xml:space="preserve">Estimated LCC  (µg  cm<tspan font-size="4.8" dy="-3.7">-2</tspan><tspan dy="3.7">)</tspan></text>
<text x="100.7" y="10.9" font-size="6.9" font-weight="bold" text-anchor="middle" fill="#000">Gaussian process regression (GPR)</text>
<text x="8.2" y="12.9" font-size="9.6" font-weight="bold" letter-spacing="0.15" fill="#000">(e)</text>
</g>
<g transform="translate(175.00,354.80)">
<rect x="27.9" y="15.5" width="145.5" height="138.2" fill="#fff"/>
<line x1="53.2" y1="15.5" x2="53.2" y2="153.7" stroke="#f4f4f4" stroke-width="0.7"/>
<line x1="27.9" y1="129.6" x2="173.4" y2="129.6" stroke="#f4f4f4" stroke-width="0.7"/>
<line x1="91.1" y1="15.5" x2="91.1" y2="153.7" stroke="#f4f4f4" stroke-width="0.7"/>
<line x1="27.9" y1="93.6" x2="173.4" y2="93.6" stroke="#f4f4f4" stroke-width="0.7"/>
<line x1="128.9" y1="15.5" x2="128.9" y2="153.7" stroke="#f4f4f4" stroke-width="0.7"/>
<line x1="27.9" y1="57.6" x2="173.4" y2="57.6" stroke="#f4f4f4" stroke-width="0.7"/>
<line x1="166.8" y1="15.5" x2="166.8" y2="153.7" stroke="#f4f4f4" stroke-width="0.7"/>
<line x1="27.9" y1="21.6" x2="173.4" y2="21.6" stroke="#f4f4f4" stroke-width="0.7"/>
<line x1="34.3" y1="15.5" x2="34.3" y2="153.7" stroke="#eeeeee" stroke-width="0.9"/>
<line x1="27.9" y1="147.6" x2="173.4" y2="147.6" stroke="#eeeeee" stroke-width="0.9"/>
<line x1="72.2" y1="15.5" x2="72.2" y2="153.7" stroke="#eeeeee" stroke-width="0.9"/>
<line x1="27.9" y1="111.6" x2="173.4" y2="111.6" stroke="#eeeeee" stroke-width="0.9"/>
<line x1="110.0" y1="15.5" x2="110.0" y2="153.7" stroke="#eeeeee" stroke-width="0.9"/>
<line x1="27.9" y1="75.6" x2="173.4" y2="75.6" stroke="#eeeeee" stroke-width="0.9"/>
<line x1="147.9" y1="15.5" x2="147.9" y2="153.7" stroke="#eeeeee" stroke-width="0.9"/>
<line x1="27.9" y1="39.6" x2="173.4" y2="39.6" stroke="#eeeeee" stroke-width="0.9"/>
<circle cx="81.6" cy="54.7" r="1.75" fill="#06BB5C"/>
<circle cx="91.4" cy="73.0" r="1.75" fill="#06BB5C"/>
<circle cx="66.7" cy="73.6" r="1.75" fill="#06BB5C"/>
<circle cx="72.7" cy="76.6" r="1.75" fill="#06BB5C"/>
<circle cx="85.6" cy="84.9" r="1.75" fill="#06BB5C"/>
<circle cx="88.4" cy="84.2" r="1.75" fill="#06BB5C"/>
<circle cx="92.5" cy="84.5" r="1.75" fill="#06BB5C"/>
<circle cx="69.7" cy="87.8" r="1.75" fill="#06BB5C"/>
<circle cx="70.6" cy="89.2" r="1.75" fill="#06BB5C"/>
<circle cx="67.6" cy="91.9" r="1.75" fill="#06BB5C"/>
<circle cx="81.2" cy="87.8" r="1.75" fill="#06BB5C"/>
<circle cx="87.1" cy="87.2" r="1.75" fill="#06BB5C"/>
<circle cx="87.4" cy="90.6" r="1.75" fill="#06BB5C"/>
<path d="M87.16 66.84L89.52 62.76L91.88 66.84Z" fill="#FAA714"/>
<path d="M96.41 64.68L98.77 60.60L101.13 64.68Z" fill="#FAA714"/>
<path d="M93.77 88.04L96.13 83.96L98.49 88.04Z" fill="#FAA714"/>
<path d="M110.19 41.32L112.55 37.24L114.91 41.32Z" fill="#06BB5C"/>
<path d="M111.32 40.60L113.68 36.52L116.04 40.60Z" fill="#06BB5C"/>
<path d="M115.67 43.48L118.03 39.40L120.39 43.48Z" fill="#06BB5C"/>
<path d="M125.67 42.94L128.03 38.86L130.39 42.94Z" fill="#06BB5C"/>
<path d="M126.81 42.22L129.17 38.14L131.53 42.22Z" fill="#06BB5C"/>
<path d="M145.12 41.32L147.48 37.24L149.84 41.32Z" fill="#06BB5C"/>
<path d="M145.50 43.48L147.86 39.40L150.22 43.48Z" fill="#06BB5C"/>
<path d="M150.41 43.48L152.77 39.40L155.13 43.48Z" fill="#06BB5C"/>
<path d="M96.60 65.04L98.96 60.96L101.32 65.04Z" fill="#FAA714"/>
<path d="M101.88 66.48L104.24 62.40L106.60 66.48Z" fill="#FAA714"/>
<path d="M104.15 66.48L106.51 62.40L108.87 66.48Z" fill="#FAA714"/>
<path d="M112.08 65.04L114.44 60.96L116.80 65.04Z" fill="#FAA714"/>
<path d="M114.72 65.58L117.08 61.50L119.44 65.58Z" fill="#FAA714"/>
<path d="M127.37 65.04L129.73 60.96L132.09 65.04Z" fill="#FAA714"/>
<path d="M128.32 67.20L130.68 63.12L133.04 67.20Z" fill="#FAA714"/>
<path d="M133.41 64.32L135.77 60.24L138.13 64.32Z" fill="#FAA714"/>
<circle cx="122.0" cy="62.4" r="1.75" fill="#06BB5C"/>
<circle cx="101.6" cy="73.0" r="1.75" fill="#06BB5C"/>
<circle cx="138.0" cy="86.3" r="1.75" fill="#06BB5C"/>
<circle cx="108.2" cy="86.3" r="1.75" fill="#06BB5C"/>
<circle cx="109.3" cy="87.2" r="1.75" fill="#06BB5C"/>
<circle cx="111.4" cy="86.7" r="1.75" fill="#06BB5C"/>
<circle cx="114.8" cy="87.8" r="1.75" fill="#06BB5C"/>
<path d="M135.68 66.12L138.04 62.04L140.40 66.12Z" fill="#06BB5C"/>
<path d="M136.81 67.74L139.17 63.66L141.53 67.74Z" fill="#06BB5C"/>
<path d="M138.89 66.48L141.25 62.40L143.61 66.48Z" fill="#06BB5C"/>
<path d="M120.20 76.54L122.56 72.46L124.92 76.54Z" fill="#06BB5C"/>
<path d="M120.76 78.70L123.12 74.62L125.48 78.70Z" fill="#06BB5C"/>
<path d="M129.07 76.00L131.43 71.92L133.79 76.00Z" fill="#06BB5C"/>
<path d="M132.28 76.54L134.64 72.46L137.00 76.54Z" fill="#06BB5C"/>
<path d="M136.81 76.54L139.17 72.46L141.53 76.54Z" fill="#06BB5C"/>
<path d="M138.89 77.08L141.25 73.00L143.61 77.08Z" fill="#06BB5C"/>
<path d="M144.74 74.38L147.10 70.30L149.46 74.38Z" fill="#06BB5C"/>
<path d="M150.97 77.08L153.33 73.00L155.69 77.08Z" fill="#06BB5C"/>
<path d="M121.33 89.12L123.69 85.04L126.05 89.12Z" fill="#06BB5C"/>
<path d="M122.28 88.58L124.64 84.50L127.00 88.58Z" fill="#06BB5C"/>
<path d="M107.55 81.03L109.91 76.95L112.27 81.03Z" fill="#FAA714"/>
<path d="M101.13 84.81L103.49 80.73L105.85 84.81Z" fill="#FAA714"/>
<path d="M93.77 88.04L96.13 83.96L98.49 88.04Z" fill="#FAA714"/>
<path d="M118.69 87.68L121.05 83.60L123.41 87.68Z" fill="#FAA714"/>
<path d="M120.76 88.58L123.12 84.50L125.48 88.58Z" fill="#FAA714"/>
<path d="M101.51 89.84L103.87 85.76L106.23 89.84Z" fill="#FAA714"/>
<circle cx="89.0" cy="86.9" r="1.75" fill="#06BB5C"/>
<circle cx="92.0" cy="87.6" r="1.75" fill="#06BB5C"/>
<circle cx="81.2" cy="99.1" r="1.75" fill="#06BB5C"/>
<circle cx="89.0" cy="102.0" r="1.75" fill="#06BB5C"/>
<circle cx="98.2" cy="99.1" r="1.75" fill="#06BB5C"/>
<circle cx="60.1" cy="97.8" r="1.75" fill="#FAA714"/>
<path d="M81.68 98.64L84.04 94.56L86.40 98.64Z" fill="#FAA714"/>
<path d="M83.57 98.64L85.93 94.56L88.29 98.64Z" fill="#FAA714"/>
<path d="M85.65 98.64L88.01 94.56L90.37 98.64Z" fill="#FAA714"/>
<path d="M87.72 98.64L90.08 94.56L92.44 98.64Z" fill="#FAA714"/>
<path d="M89.61 98.64L91.97 94.56L94.33 98.64Z" fill="#FAA714"/>
<path d="M91.69 98.64L94.05 94.56L96.41 98.64Z" fill="#FAA714"/>
<path d="M93.77 98.64L96.13 94.56L98.49 98.64Z" fill="#FAA714"/>
<circle cx="45.9" cy="110.0" r="1.75" fill="#FAA714"/>
<circle cx="48.4" cy="112.0" r="1.75" fill="#FAA714"/>
<circle cx="50.8" cy="111.1" r="1.75" fill="#FAA714"/>
<circle cx="42.5" cy="120.3" r="1.75" fill="#FAA714"/>
<circle cx="46.7" cy="118.1" r="1.75" fill="#FAA714"/>
<circle cx="50.4" cy="119.4" r="1.75" fill="#FAA714"/>
<circle cx="52.3" cy="119.7" r="1.75" fill="#FAA714"/>
<circle cx="54.4" cy="120.3" r="1.75" fill="#FAA714"/>
<circle cx="56.5" cy="120.3" r="1.75" fill="#FAA714"/>
<circle cx="58.6" cy="120.3" r="1.75" fill="#FAA714"/>
<circle cx="60.4" cy="120.3" r="1.75" fill="#FAA714"/>
<circle cx="63.1" cy="119.7" r="1.75" fill="#FAA714"/>
<circle cx="67.1" cy="119.7" r="1.75" fill="#FAA714"/>
<circle cx="71.8" cy="119.7" r="1.75" fill="#FAA714"/>
<circle cx="59.5" cy="112.7" r="1.75" fill="#FAA714"/>
<circle cx="61.6" cy="113.6" r="1.75" fill="#FAA714"/>
<circle cx="66.7" cy="108.6" r="1.75" fill="#FAA714"/>
<circle cx="68.4" cy="109.7" r="1.75" fill="#FAA714"/>
<circle cx="67.6" cy="110.6" r="1.75" fill="#FAA714"/>
<circle cx="73.8" cy="111.7" r="1.75" fill="#FAA714"/>
<circle cx="75.2" cy="113.6" r="1.75" fill="#FAA714"/>
<circle cx="76.9" cy="110.6" r="1.75" fill="#FAA714"/>
<circle cx="78.8" cy="112.7" r="1.75" fill="#FAA714"/>
<circle cx="80.5" cy="109.1" r="1.75" fill="#FAA714"/>
<circle cx="82.5" cy="107.2" r="1.75" fill="#FAA714"/>
<circle cx="80.5" cy="104.5" r="1.75" fill="#FAA714"/>
<circle cx="75.2" cy="115.6" r="1.75" fill="#FAA714"/>
<circle cx="77.8" cy="118.8" r="1.75" fill="#FAA714"/>
<circle cx="79.9" cy="119.4" r="1.75" fill="#FAA714"/>
<circle cx="82.0" cy="117.8" r="1.75" fill="#FAA714"/>
<circle cx="92.7" cy="108.1" r="1.75" fill="#FAA714"/>
<circle cx="93.5" cy="116.2" r="1.75" fill="#FAA714"/>
<circle cx="95.6" cy="118.1" r="1.75" fill="#FAA714"/>
<circle cx="68.8" cy="107.5" r="1.75" fill="#06BB5C"/>
<circle cx="82.9" cy="108.1" r="1.75" fill="#06BB5C"/>
<path d="M94.14 88.40L96.50 84.32L98.86 88.40Z" fill="#FAA714"/>
<path d="M101.32 89.84L103.68 85.76L106.04 89.84Z" fill="#FAA714"/>
<path d="M106.98 89.84L109.34 85.76L111.70 89.84Z" fill="#FAA714"/>
<path d="M118.50 88.40L120.86 84.32L123.22 88.40Z" fill="#FAA714"/>
<path d="M120.58 87.68L122.94 83.60L125.30 87.68Z" fill="#FAA714"/>
<path d="M88.67 98.64L91.03 94.56L93.39 98.64Z" fill="#FAA714"/>
<path d="M90.93 98.64L93.29 94.56L95.65 98.64Z" fill="#FAA714"/>
<path d="M94.14 98.64L96.50 94.56L98.86 98.64Z" fill="#FAA714"/>
<path d="M97.54 98.64L99.90 94.56L102.26 98.64Z" fill="#FAA714"/>
<path d="M99.81 98.64L102.17 94.56L104.53 98.64Z" fill="#FAA714"/>
<path d="M104.15 98.64L106.51 94.56L108.87 98.64Z" fill="#FAA714"/>
<circle cx="107.6" cy="87.4" r="1.75" fill="#06BB5C"/>
<circle cx="109.7" cy="86.3" r="1.75" fill="#06BB5C"/>
<circle cx="112.0" cy="87.8" r="1.75" fill="#06BB5C"/>
<circle cx="115.4" cy="89.6" r="1.75" fill="#06BB5C"/>
<circle cx="116.3" cy="91.4" r="1.75" fill="#06BB5C"/>
<circle cx="98.8" cy="98.4" r="1.75" fill="#06BB5C"/>
<circle cx="107.6" cy="99.4" r="1.75" fill="#06BB5C"/>
<circle cx="117.5" cy="98.9" r="1.75" fill="#06BB5C"/>
<circle cx="91.0" cy="102.3" r="1.75" fill="#06BB5C"/>
<circle cx="97.6" cy="101.8" r="1.75" fill="#06BB5C"/>
<path d="M121.90 89.84L124.26 85.76L126.62 89.84Z" fill="#06BB5C"/>
<circle cx="110.3" cy="98.9" r="1.75" fill="#FAA714"/>
<circle cx="92.2" cy="107.7" r="1.75" fill="#FAA714"/>
<circle cx="93.3" cy="116.2" r="1.75" fill="#FAA714"/>
<circle cx="95.6" cy="118.3" r="1.75" fill="#FAA714"/>
<circle cx="110.3" cy="119.9" r="1.75" fill="#FAA714"/>
<line x1="32.31" y1="149.49" x2="170.60" y2="18.00" stroke="#000" stroke-width="1.65" stroke-dasharray="5.7 5.9"/>
<rect x="27.9" y="15.5" width="21.3" height="8.1" fill="#d5d5d5" stroke="#fff" stroke-width="0.8"/>
<rect x="27.9" y="23.6" width="21.3" height="8.2" fill="#f2f2f2" stroke="#fff" stroke-width="0.8"/>
<text x="38.5" y="21.9" font-size="4.75" font-weight="bold" text-anchor="middle" fill="#222">RMSE</text>
<text x="38.5" y="30.1" font-size="4.75" text-anchor="middle" fill="#222">9.96</text>
<rect x="49.2" y="15.5" width="24.2" height="8.1" fill="#d5d5d5" stroke="#fff" stroke-width="0.8"/>
<rect x="49.2" y="23.6" width="24.2" height="8.2" fill="#f2f2f2" stroke="#fff" stroke-width="0.8"/>
<text x="61.3" y="21.9" font-size="4.75" font-weight="bold" text-anchor="middle" fill="#222">NRMSE</text>
<text x="61.3" y="30.1" font-size="4.75" text-anchor="middle" fill="#222">30.6</text>
<rect x="73.4" y="15.5" width="16.6" height="8.1" fill="#d5d5d5" stroke="#fff" stroke-width="0.8"/>
<rect x="73.4" y="23.6" width="16.6" height="8.2" fill="#f2f2f2" stroke="#fff" stroke-width="0.8"/>
<text x="81.7" y="21.9" font-size="4.75" font-weight="bold" text-anchor="middle" fill="#222">R²</text>
<text x="81.7" y="30.1" font-size="4.75" text-anchor="middle" fill="#222">0.54</text>
<rect x="90.0" y="15.5" width="16.6" height="8.1" fill="#d5d5d5" stroke="#fff" stroke-width="0.8"/>
<rect x="90.0" y="23.6" width="16.6" height="8.2" fill="#f2f2f2" stroke="#fff" stroke-width="0.8"/>
<text x="98.3" y="21.9" font-size="4.75" font-weight="bold" text-anchor="middle" fill="#222">Bias</text>
<text x="98.3" y="30.1" font-size="4.75" text-anchor="middle" fill="#222">1.2</text>
<rect x="27.9" y="15.5" width="145.5" height="138.2" fill="none" stroke="#b5b5b5" stroke-width="1.1"/>
<line x1="34.3" y1="153.7" x2="34.3" y2="155.9" stroke="#333" stroke-width="0.6"/>
<line x1="25.7" y1="147.6" x2="27.9" y2="147.6" stroke="#333" stroke-width="0.6"/>
<text x="34.3" y="163.0" font-size="6.9" text-anchor="middle" fill="#404040">0</text>
<text x="24.2" y="150.2" font-size="6.9" text-anchor="end" fill="#404040">0</text>
<line x1="72.2" y1="153.7" x2="72.2" y2="155.9" stroke="#333" stroke-width="0.6"/>
<line x1="25.7" y1="111.6" x2="27.9" y2="111.6" stroke="#333" stroke-width="0.6"/>
<text x="72.2" y="163.0" font-size="6.9" text-anchor="middle" fill="#404040">20</text>
<text x="24.2" y="114.2" font-size="6.9" text-anchor="end" fill="#404040">20</text>
<line x1="110.0" y1="153.7" x2="110.0" y2="155.9" stroke="#333" stroke-width="0.6"/>
<line x1="25.7" y1="75.6" x2="27.9" y2="75.6" stroke="#333" stroke-width="0.6"/>
<text x="110.0" y="163.0" font-size="6.9" text-anchor="middle" fill="#404040">40</text>
<text x="24.2" y="78.2" font-size="6.9" text-anchor="end" fill="#404040">40</text>
<line x1="147.9" y1="153.7" x2="147.9" y2="155.9" stroke="#333" stroke-width="0.6"/>
<line x1="25.7" y1="39.6" x2="27.9" y2="39.6" stroke="#333" stroke-width="0.6"/>
<text x="147.9" y="163.0" font-size="6.9" text-anchor="middle" fill="#404040">60</text>
<text x="24.2" y="42.2" font-size="6.9" text-anchor="end" fill="#404040">60</text>
<text x="100.7" y="173.2" font-size="6.9" font-weight="bold" text-anchor="middle" fill="#000" xml:space="preserve">Measured LCC  (µg  cm<tspan font-size="4.8" dy="-3.7">-2</tspan><tspan dy="3.7">)</tspan></text>
<text transform="translate(11.9,85.1) rotate(-90)" font-size="6.9" font-weight="bold" text-anchor="middle" fill="#000" xml:space="preserve">Estimated LCC  (µg  cm<tspan font-size="4.8" dy="-3.7">-2</tspan><tspan dy="3.7">)</tspan></text>
<text x="100.7" y="10.9" font-size="6.9" font-weight="bold" text-anchor="middle" fill="#000">Ensemble method (EM)</text>
<text x="8.2" y="12.9" font-size="9.6" font-weight="bold" letter-spacing="0.15" fill="#000">(f)</text>
</g>

<text x="59.7" y="546.2" font-size="8.3" fill="#000">Cultivar</text>
<circle cx="97.9" cy="543.0" r="2.0" fill="#FAA714"/>
<text x="108.1" y="545.5" font-size="6.9" fill="#000">'Fibror 79'</text>
<circle cx="149.2" cy="543.0" r="2.0" fill="#06BB5C"/>
<text x="158.9" y="545.5" font-size="6.9" fill="#000">'Futura 75'</text>
<text x="205.0" y="546.2" font-size="8.3" fill="#000">Year</text>
<circle cx="233.2" cy="543.1" r="1.5" fill="#000"/>
<text x="242.5" y="545.5" font-size="6.9" fill="#000">2020</text>
<path d="M266.4 544.2L268.4 540.8L270.4 544.2Z" fill="#000"/>
<text x="278.5" y="545.5" font-size="6.9" fill="#000">2021</text>

</svg>
</body></html>
